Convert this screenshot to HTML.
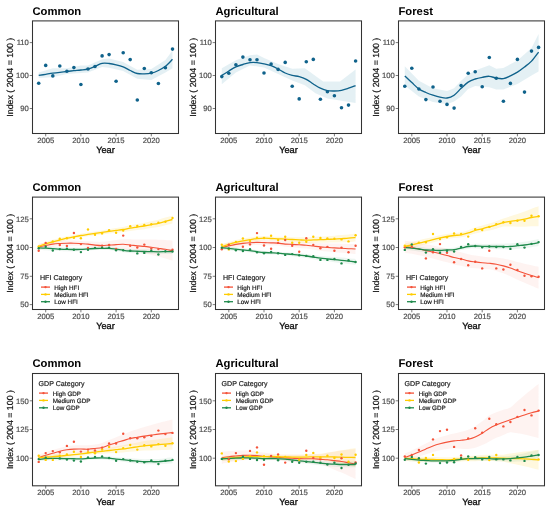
<!DOCTYPE html>
<html><head><meta charset="utf-8"><style>
html,body{margin:0;padding:0;background:#fff;}
svg{display:block;filter:blur(0.25px);}
text{paint-order:stroke;stroke-linejoin:round;text-rendering:geometricPrecision;}
.r{stroke-width:0.2px;}
</style></head><body>
<svg width="550" height="511" viewBox="0 0 550 511" font-family="Liberation Sans, sans-serif" style="font-family:'Liberation Sans',sans-serif">
<rect width="550" height="511" fill="#fff"/>
<text x="32.5" y="14.55" font-size="11.25" font-weight="bold" fill="#000">Common</text>
<text transform="translate(13.3,77.2) rotate(-90)" text-anchor="middle" font-size="8.8" fill="#111" stroke="#111" class="r">Index ( 2004 = 100 )</text>
<line x1="29.7" y1="42.6" x2="32.5" y2="42.6" stroke="#444" stroke-width="0.7"/>
<text x="28.9" y="45.4" text-anchor="end" font-size="7.7" fill="#4d4d4d" stroke="#4d4d4d" class="r">110</text>
<line x1="29.7" y1="75.5" x2="32.5" y2="75.5" stroke="#444" stroke-width="0.7"/>
<text x="28.9" y="78.3" text-anchor="end" font-size="7.7" fill="#4d4d4d" stroke="#4d4d4d" class="r">100</text>
<line x1="29.7" y1="108.5" x2="32.5" y2="108.5" stroke="#444" stroke-width="0.7"/>
<text x="28.9" y="111.3" text-anchor="end" font-size="7.7" fill="#4d4d4d" stroke="#4d4d4d" class="r">90</text>
<line x1="45.7" y1="133.5" x2="45.7" y2="136.3" stroke="#444" stroke-width="0.7"/>
<text x="45.7" y="142.7" text-anchor="middle" font-size="7.7" fill="#4d4d4d" stroke="#4d4d4d" class="r">2005</text>
<line x1="80.9" y1="133.5" x2="80.9" y2="136.3" stroke="#444" stroke-width="0.7"/>
<text x="80.9" y="142.7" text-anchor="middle" font-size="7.7" fill="#4d4d4d" stroke="#4d4d4d" class="r">2010</text>
<line x1="116.1" y1="133.5" x2="116.1" y2="136.3" stroke="#444" stroke-width="0.7"/>
<text x="116.1" y="142.7" text-anchor="middle" font-size="7.7" fill="#4d4d4d" stroke="#4d4d4d" class="r">2015</text>
<line x1="151.3" y1="133.5" x2="151.3" y2="136.3" stroke="#444" stroke-width="0.7"/>
<text x="151.3" y="142.7" text-anchor="middle" font-size="7.7" fill="#4d4d4d" stroke="#4d4d4d" class="r">2020</text>
<text x="105.5" y="152.7" text-anchor="middle" font-size="9.2" fill="#111" stroke="#111" stroke-width="0.35">Year</text>
<text x="215.5" y="14.55" font-size="11.25" font-weight="bold" fill="#000">Agricultural</text>
<text transform="translate(196.3,77.2) rotate(-90)" text-anchor="middle" font-size="8.8" fill="#111" stroke="#111" class="r">Index ( 2004 = 100 )</text>
<line x1="212.7" y1="42.6" x2="215.5" y2="42.6" stroke="#444" stroke-width="0.7"/>
<text x="211.9" y="45.4" text-anchor="end" font-size="7.7" fill="#4d4d4d" stroke="#4d4d4d" class="r">110</text>
<line x1="212.7" y1="75.5" x2="215.5" y2="75.5" stroke="#444" stroke-width="0.7"/>
<text x="211.9" y="78.3" text-anchor="end" font-size="7.7" fill="#4d4d4d" stroke="#4d4d4d" class="r">100</text>
<line x1="212.7" y1="108.5" x2="215.5" y2="108.5" stroke="#444" stroke-width="0.7"/>
<text x="211.9" y="111.3" text-anchor="end" font-size="7.7" fill="#4d4d4d" stroke="#4d4d4d" class="r">90</text>
<line x1="228.8" y1="133.5" x2="228.8" y2="136.3" stroke="#444" stroke-width="0.7"/>
<text x="228.8" y="142.7" text-anchor="middle" font-size="7.7" fill="#4d4d4d" stroke="#4d4d4d" class="r">2005</text>
<line x1="264.0" y1="133.5" x2="264.0" y2="136.3" stroke="#444" stroke-width="0.7"/>
<text x="264.0" y="142.7" text-anchor="middle" font-size="7.7" fill="#4d4d4d" stroke="#4d4d4d" class="r">2010</text>
<line x1="299.2" y1="133.5" x2="299.2" y2="136.3" stroke="#444" stroke-width="0.7"/>
<text x="299.2" y="142.7" text-anchor="middle" font-size="7.7" fill="#4d4d4d" stroke="#4d4d4d" class="r">2015</text>
<line x1="334.4" y1="133.5" x2="334.4" y2="136.3" stroke="#444" stroke-width="0.7"/>
<text x="334.4" y="142.7" text-anchor="middle" font-size="7.7" fill="#4d4d4d" stroke="#4d4d4d" class="r">2020</text>
<text x="288.5" y="152.7" text-anchor="middle" font-size="9.2" fill="#111" stroke="#111" stroke-width="0.35">Year</text>
<text x="398.5" y="14.55" font-size="11.25" font-weight="bold" fill="#000">Forest</text>
<text transform="translate(379.3,77.2) rotate(-90)" text-anchor="middle" font-size="8.8" fill="#111" stroke="#111" class="r">Index ( 2004 = 100 )</text>
<line x1="395.7" y1="42.6" x2="398.5" y2="42.6" stroke="#444" stroke-width="0.7"/>
<text x="394.9" y="45.4" text-anchor="end" font-size="7.7" fill="#4d4d4d" stroke="#4d4d4d" class="r">110</text>
<line x1="395.7" y1="75.5" x2="398.5" y2="75.5" stroke="#444" stroke-width="0.7"/>
<text x="394.9" y="78.3" text-anchor="end" font-size="7.7" fill="#4d4d4d" stroke="#4d4d4d" class="r">100</text>
<line x1="395.7" y1="108.5" x2="398.5" y2="108.5" stroke="#444" stroke-width="0.7"/>
<text x="394.9" y="111.3" text-anchor="end" font-size="7.7" fill="#4d4d4d" stroke="#4d4d4d" class="r">90</text>
<line x1="411.8" y1="133.5" x2="411.8" y2="136.3" stroke="#444" stroke-width="0.7"/>
<text x="411.8" y="142.7" text-anchor="middle" font-size="7.7" fill="#4d4d4d" stroke="#4d4d4d" class="r">2005</text>
<line x1="447.0" y1="133.5" x2="447.0" y2="136.3" stroke="#444" stroke-width="0.7"/>
<text x="447.0" y="142.7" text-anchor="middle" font-size="7.7" fill="#4d4d4d" stroke="#4d4d4d" class="r">2010</text>
<line x1="482.2" y1="133.5" x2="482.2" y2="136.3" stroke="#444" stroke-width="0.7"/>
<text x="482.2" y="142.7" text-anchor="middle" font-size="7.7" fill="#4d4d4d" stroke="#4d4d4d" class="r">2015</text>
<line x1="517.4" y1="133.5" x2="517.4" y2="136.3" stroke="#444" stroke-width="0.7"/>
<text x="517.4" y="142.7" text-anchor="middle" font-size="7.7" fill="#4d4d4d" stroke="#4d4d4d" class="r">2020</text>
<text x="471.5" y="152.7" text-anchor="middle" font-size="9.2" fill="#111" stroke="#111" stroke-width="0.35">Year</text>
<text x="32.5" y="190.75" font-size="11.25" font-weight="bold" fill="#000">Common</text>
<text transform="translate(13.3,253.3) rotate(-90)" text-anchor="middle" font-size="8.8" fill="#111" stroke="#111" class="r">Index ( 2004 = 100 )</text>
<line x1="29.7" y1="218.8" x2="32.5" y2="218.8" stroke="#444" stroke-width="0.7"/>
<text x="28.9" y="221.6" text-anchor="end" font-size="7.7" fill="#4d4d4d" stroke="#4d4d4d" class="r">125</text>
<line x1="29.7" y1="247.5" x2="32.5" y2="247.5" stroke="#444" stroke-width="0.7"/>
<text x="28.9" y="250.3" text-anchor="end" font-size="7.7" fill="#4d4d4d" stroke="#4d4d4d" class="r">100</text>
<line x1="29.7" y1="276.3" x2="32.5" y2="276.3" stroke="#444" stroke-width="0.7"/>
<text x="28.9" y="279.1" text-anchor="end" font-size="7.7" fill="#4d4d4d" stroke="#4d4d4d" class="r">75</text>
<line x1="29.7" y1="304.6" x2="32.5" y2="304.6" stroke="#444" stroke-width="0.7"/>
<text x="28.9" y="307.4" text-anchor="end" font-size="7.7" fill="#4d4d4d" stroke="#4d4d4d" class="r">50</text>
<line x1="45.7" y1="309.5" x2="45.7" y2="312.3" stroke="#444" stroke-width="0.7"/>
<text x="45.7" y="318.7" text-anchor="middle" font-size="7.7" fill="#4d4d4d" stroke="#4d4d4d" class="r">2005</text>
<line x1="80.9" y1="309.5" x2="80.9" y2="312.3" stroke="#444" stroke-width="0.7"/>
<text x="80.9" y="318.7" text-anchor="middle" font-size="7.7" fill="#4d4d4d" stroke="#4d4d4d" class="r">2010</text>
<line x1="116.1" y1="309.5" x2="116.1" y2="312.3" stroke="#444" stroke-width="0.7"/>
<text x="116.1" y="318.7" text-anchor="middle" font-size="7.7" fill="#4d4d4d" stroke="#4d4d4d" class="r">2015</text>
<line x1="151.3" y1="309.5" x2="151.3" y2="312.3" stroke="#444" stroke-width="0.7"/>
<text x="151.3" y="318.7" text-anchor="middle" font-size="7.7" fill="#4d4d4d" stroke="#4d4d4d" class="r">2020</text>
<text x="105.5" y="328.7" text-anchor="middle" font-size="9.2" fill="#111" stroke="#111" stroke-width="0.35">Year</text>
<text x="215.5" y="190.75" font-size="11.25" font-weight="bold" fill="#000">Agricultural</text>
<text transform="translate(196.3,253.3) rotate(-90)" text-anchor="middle" font-size="8.8" fill="#111" stroke="#111" class="r">Index ( 2004 = 100 )</text>
<line x1="212.7" y1="218.8" x2="215.5" y2="218.8" stroke="#444" stroke-width="0.7"/>
<text x="211.9" y="221.6" text-anchor="end" font-size="7.7" fill="#4d4d4d" stroke="#4d4d4d" class="r">125</text>
<line x1="212.7" y1="247.5" x2="215.5" y2="247.5" stroke="#444" stroke-width="0.7"/>
<text x="211.9" y="250.3" text-anchor="end" font-size="7.7" fill="#4d4d4d" stroke="#4d4d4d" class="r">100</text>
<line x1="212.7" y1="276.3" x2="215.5" y2="276.3" stroke="#444" stroke-width="0.7"/>
<text x="211.9" y="279.1" text-anchor="end" font-size="7.7" fill="#4d4d4d" stroke="#4d4d4d" class="r">75</text>
<line x1="212.7" y1="304.6" x2="215.5" y2="304.6" stroke="#444" stroke-width="0.7"/>
<text x="211.9" y="307.4" text-anchor="end" font-size="7.7" fill="#4d4d4d" stroke="#4d4d4d" class="r">50</text>
<line x1="228.8" y1="309.5" x2="228.8" y2="312.3" stroke="#444" stroke-width="0.7"/>
<text x="228.8" y="318.7" text-anchor="middle" font-size="7.7" fill="#4d4d4d" stroke="#4d4d4d" class="r">2005</text>
<line x1="264.0" y1="309.5" x2="264.0" y2="312.3" stroke="#444" stroke-width="0.7"/>
<text x="264.0" y="318.7" text-anchor="middle" font-size="7.7" fill="#4d4d4d" stroke="#4d4d4d" class="r">2010</text>
<line x1="299.2" y1="309.5" x2="299.2" y2="312.3" stroke="#444" stroke-width="0.7"/>
<text x="299.2" y="318.7" text-anchor="middle" font-size="7.7" fill="#4d4d4d" stroke="#4d4d4d" class="r">2015</text>
<line x1="334.4" y1="309.5" x2="334.4" y2="312.3" stroke="#444" stroke-width="0.7"/>
<text x="334.4" y="318.7" text-anchor="middle" font-size="7.7" fill="#4d4d4d" stroke="#4d4d4d" class="r">2020</text>
<text x="288.5" y="328.7" text-anchor="middle" font-size="9.2" fill="#111" stroke="#111" stroke-width="0.35">Year</text>
<text x="398.5" y="190.75" font-size="11.25" font-weight="bold" fill="#000">Forest</text>
<text transform="translate(379.3,253.3) rotate(-90)" text-anchor="middle" font-size="8.8" fill="#111" stroke="#111" class="r">Index ( 2004 = 100 )</text>
<line x1="395.7" y1="218.8" x2="398.5" y2="218.8" stroke="#444" stroke-width="0.7"/>
<text x="394.9" y="221.6" text-anchor="end" font-size="7.7" fill="#4d4d4d" stroke="#4d4d4d" class="r">125</text>
<line x1="395.7" y1="247.5" x2="398.5" y2="247.5" stroke="#444" stroke-width="0.7"/>
<text x="394.9" y="250.3" text-anchor="end" font-size="7.7" fill="#4d4d4d" stroke="#4d4d4d" class="r">100</text>
<line x1="395.7" y1="276.3" x2="398.5" y2="276.3" stroke="#444" stroke-width="0.7"/>
<text x="394.9" y="279.1" text-anchor="end" font-size="7.7" fill="#4d4d4d" stroke="#4d4d4d" class="r">75</text>
<line x1="395.7" y1="304.6" x2="398.5" y2="304.6" stroke="#444" stroke-width="0.7"/>
<text x="394.9" y="307.4" text-anchor="end" font-size="7.7" fill="#4d4d4d" stroke="#4d4d4d" class="r">50</text>
<line x1="411.8" y1="309.5" x2="411.8" y2="312.3" stroke="#444" stroke-width="0.7"/>
<text x="411.8" y="318.7" text-anchor="middle" font-size="7.7" fill="#4d4d4d" stroke="#4d4d4d" class="r">2005</text>
<line x1="447.0" y1="309.5" x2="447.0" y2="312.3" stroke="#444" stroke-width="0.7"/>
<text x="447.0" y="318.7" text-anchor="middle" font-size="7.7" fill="#4d4d4d" stroke="#4d4d4d" class="r">2010</text>
<line x1="482.2" y1="309.5" x2="482.2" y2="312.3" stroke="#444" stroke-width="0.7"/>
<text x="482.2" y="318.7" text-anchor="middle" font-size="7.7" fill="#4d4d4d" stroke="#4d4d4d" class="r">2015</text>
<line x1="517.4" y1="309.5" x2="517.4" y2="312.3" stroke="#444" stroke-width="0.7"/>
<text x="517.4" y="318.7" text-anchor="middle" font-size="7.7" fill="#4d4d4d" stroke="#4d4d4d" class="r">2020</text>
<text x="471.5" y="328.7" text-anchor="middle" font-size="9.2" fill="#111" stroke="#111" stroke-width="0.35">Year</text>
<text x="32.5" y="367.15" font-size="11.25" font-weight="bold" fill="#000">Common</text>
<text transform="translate(13.3,429.6) rotate(-90)" text-anchor="middle" font-size="8.8" fill="#111" stroke="#111" class="r">Index ( 2004 = 100 )</text>
<line x1="29.7" y1="400.8" x2="32.5" y2="400.8" stroke="#444" stroke-width="0.7"/>
<text x="28.9" y="403.6" text-anchor="end" font-size="7.7" fill="#4d4d4d" stroke="#4d4d4d" class="r">150</text>
<line x1="29.7" y1="429.5" x2="32.5" y2="429.5" stroke="#444" stroke-width="0.7"/>
<text x="28.9" y="432.3" text-anchor="end" font-size="7.7" fill="#4d4d4d" stroke="#4d4d4d" class="r">125</text>
<line x1="29.7" y1="458.2" x2="32.5" y2="458.2" stroke="#444" stroke-width="0.7"/>
<text x="28.9" y="461.0" text-anchor="end" font-size="7.7" fill="#4d4d4d" stroke="#4d4d4d" class="r">100</text>
<line x1="45.7" y1="485.8" x2="45.7" y2="488.6" stroke="#444" stroke-width="0.7"/>
<text x="45.7" y="495.0" text-anchor="middle" font-size="7.7" fill="#4d4d4d" stroke="#4d4d4d" class="r">2005</text>
<line x1="80.9" y1="485.8" x2="80.9" y2="488.6" stroke="#444" stroke-width="0.7"/>
<text x="80.9" y="495.0" text-anchor="middle" font-size="7.7" fill="#4d4d4d" stroke="#4d4d4d" class="r">2010</text>
<line x1="116.1" y1="485.8" x2="116.1" y2="488.6" stroke="#444" stroke-width="0.7"/>
<text x="116.1" y="495.0" text-anchor="middle" font-size="7.7" fill="#4d4d4d" stroke="#4d4d4d" class="r">2015</text>
<line x1="151.3" y1="485.8" x2="151.3" y2="488.6" stroke="#444" stroke-width="0.7"/>
<text x="151.3" y="495.0" text-anchor="middle" font-size="7.7" fill="#4d4d4d" stroke="#4d4d4d" class="r">2020</text>
<text x="105.5" y="505.0" text-anchor="middle" font-size="9.2" fill="#111" stroke="#111" stroke-width="0.35">Year</text>
<text x="215.5" y="367.15" font-size="11.25" font-weight="bold" fill="#000">Agricultural</text>
<text transform="translate(196.3,429.6) rotate(-90)" text-anchor="middle" font-size="8.8" fill="#111" stroke="#111" class="r">Index ( 2004 = 100 )</text>
<line x1="212.7" y1="400.8" x2="215.5" y2="400.8" stroke="#444" stroke-width="0.7"/>
<text x="211.9" y="403.6" text-anchor="end" font-size="7.7" fill="#4d4d4d" stroke="#4d4d4d" class="r">150</text>
<line x1="212.7" y1="429.5" x2="215.5" y2="429.5" stroke="#444" stroke-width="0.7"/>
<text x="211.9" y="432.3" text-anchor="end" font-size="7.7" fill="#4d4d4d" stroke="#4d4d4d" class="r">125</text>
<line x1="212.7" y1="458.2" x2="215.5" y2="458.2" stroke="#444" stroke-width="0.7"/>
<text x="211.9" y="461.0" text-anchor="end" font-size="7.7" fill="#4d4d4d" stroke="#4d4d4d" class="r">100</text>
<line x1="228.8" y1="485.8" x2="228.8" y2="488.6" stroke="#444" stroke-width="0.7"/>
<text x="228.8" y="495.0" text-anchor="middle" font-size="7.7" fill="#4d4d4d" stroke="#4d4d4d" class="r">2005</text>
<line x1="264.0" y1="485.8" x2="264.0" y2="488.6" stroke="#444" stroke-width="0.7"/>
<text x="264.0" y="495.0" text-anchor="middle" font-size="7.7" fill="#4d4d4d" stroke="#4d4d4d" class="r">2010</text>
<line x1="299.2" y1="485.8" x2="299.2" y2="488.6" stroke="#444" stroke-width="0.7"/>
<text x="299.2" y="495.0" text-anchor="middle" font-size="7.7" fill="#4d4d4d" stroke="#4d4d4d" class="r">2015</text>
<line x1="334.4" y1="485.8" x2="334.4" y2="488.6" stroke="#444" stroke-width="0.7"/>
<text x="334.4" y="495.0" text-anchor="middle" font-size="7.7" fill="#4d4d4d" stroke="#4d4d4d" class="r">2020</text>
<text x="288.5" y="505.0" text-anchor="middle" font-size="9.2" fill="#111" stroke="#111" stroke-width="0.35">Year</text>
<text x="398.5" y="367.15" font-size="11.25" font-weight="bold" fill="#000">Forest</text>
<text transform="translate(379.3,429.6) rotate(-90)" text-anchor="middle" font-size="8.8" fill="#111" stroke="#111" class="r">Index ( 2004 = 100 )</text>
<line x1="395.7" y1="400.8" x2="398.5" y2="400.8" stroke="#444" stroke-width="0.7"/>
<text x="394.9" y="403.6" text-anchor="end" font-size="7.7" fill="#4d4d4d" stroke="#4d4d4d" class="r">150</text>
<line x1="395.7" y1="429.5" x2="398.5" y2="429.5" stroke="#444" stroke-width="0.7"/>
<text x="394.9" y="432.3" text-anchor="end" font-size="7.7" fill="#4d4d4d" stroke="#4d4d4d" class="r">125</text>
<line x1="395.7" y1="458.2" x2="398.5" y2="458.2" stroke="#444" stroke-width="0.7"/>
<text x="394.9" y="461.0" text-anchor="end" font-size="7.7" fill="#4d4d4d" stroke="#4d4d4d" class="r">100</text>
<line x1="411.8" y1="485.8" x2="411.8" y2="488.6" stroke="#444" stroke-width="0.7"/>
<text x="411.8" y="495.0" text-anchor="middle" font-size="7.7" fill="#4d4d4d" stroke="#4d4d4d" class="r">2005</text>
<line x1="447.0" y1="485.8" x2="447.0" y2="488.6" stroke="#444" stroke-width="0.7"/>
<text x="447.0" y="495.0" text-anchor="middle" font-size="7.7" fill="#4d4d4d" stroke="#4d4d4d" class="r">2010</text>
<line x1="482.2" y1="485.8" x2="482.2" y2="488.6" stroke="#444" stroke-width="0.7"/>
<text x="482.2" y="495.0" text-anchor="middle" font-size="7.7" fill="#4d4d4d" stroke="#4d4d4d" class="r">2015</text>
<line x1="517.4" y1="485.8" x2="517.4" y2="488.6" stroke="#444" stroke-width="0.7"/>
<text x="517.4" y="495.0" text-anchor="middle" font-size="7.7" fill="#4d4d4d" stroke="#4d4d4d" class="r">2020</text>
<text x="471.5" y="505.0" text-anchor="middle" font-size="9.2" fill="#111" stroke="#111" stroke-width="0.35">Year</text>
<path d="M38.70,72.50 L52.78,68.30 L66.86,68.30 L80.94,65.60 L87.98,65.60 L102.06,59.30 L109.10,58.50 L123.18,62.10 L137.26,69.70 L151.34,69.00 L165.42,60.00 L172.46,50.40 L172.46,68.30 L165.42,72.50 L151.34,80.10 L137.26,78.70 L123.18,71.10 L109.10,67.80 L102.06,67.00 L87.98,72.50 L66.86,73.90 L52.78,77.30 L38.70,78.00 Z" fill="#5a9fb8" fill-opacity="0.16" stroke="none"/>
<path d="M38.70,75.40 C39.87,75.22 43.39,74.67 45.74,74.30 C48.09,73.93 50.43,73.53 52.78,73.20 C55.13,72.87 57.47,72.58 59.82,72.30 C62.17,72.02 64.51,71.77 66.86,71.50 C69.21,71.23 71.55,70.95 73.90,70.70 C76.25,70.45 78.59,70.28 80.94,70.00 C83.29,69.72 85.63,69.60 87.98,69.00 C90.33,68.40 92.67,67.33 95.02,66.40 C97.37,65.47 99.71,63.88 102.06,63.40 C104.41,62.92 106.75,63.27 109.10,63.50 C111.45,63.73 113.79,64.23 116.14,64.80 C118.49,65.37 120.83,65.95 123.18,66.90 C125.53,67.85 127.87,69.40 130.22,70.50 C132.57,71.60 134.91,72.93 137.26,73.50 C139.61,74.07 141.95,73.95 144.30,73.90 C146.65,73.85 148.99,73.77 151.34,73.20 C153.69,72.63 156.03,71.65 158.38,70.50 C160.73,69.35 163.07,68.17 165.42,66.30 C167.77,64.43 171.29,60.47 172.46,59.30" fill="none" stroke="#0f628b" stroke-width="1.35" stroke-linecap="butt"/>
<circle cx="38.7" cy="83.2" r="1.8" fill="#0f628b"/>
<circle cx="45.7" cy="65.4" r="1.8" fill="#0f628b"/>
<circle cx="52.8" cy="75.9" r="1.8" fill="#0f628b"/>
<circle cx="59.8" cy="66.0" r="1.8" fill="#0f628b"/>
<circle cx="66.9" cy="71.2" r="1.8" fill="#0f628b"/>
<circle cx="73.9" cy="67.6" r="1.8" fill="#0f628b"/>
<circle cx="80.9" cy="84.5" r="1.8" fill="#0f628b"/>
<circle cx="88.0" cy="69.0" r="1.8" fill="#0f628b"/>
<circle cx="95.0" cy="66.5" r="1.8" fill="#0f628b"/>
<circle cx="102.1" cy="55.9" r="1.8" fill="#0f628b"/>
<circle cx="109.1" cy="54.6" r="1.8" fill="#0f628b"/>
<circle cx="116.1" cy="81.3" r="1.8" fill="#0f628b"/>
<circle cx="123.2" cy="52.8" r="1.8" fill="#0f628b"/>
<circle cx="130.2" cy="59.6" r="1.8" fill="#0f628b"/>
<circle cx="137.3" cy="100.0" r="1.8" fill="#0f628b"/>
<circle cx="144.3" cy="68.5" r="1.8" fill="#0f628b"/>
<circle cx="151.3" cy="72.7" r="1.8" fill="#0f628b"/>
<circle cx="158.4" cy="83.5" r="1.8" fill="#0f628b"/>
<circle cx="165.4" cy="67.7" r="1.8" fill="#0f628b"/>
<circle cx="172.5" cy="49.1" r="1.8" fill="#0f628b"/>
<path d="M221.80,68.30 L235.88,60.30 L249.96,55.20 L257.00,54.50 L264.04,58.10 L278.12,63.90 L292.20,68.70 L304.87,68.30 L323.18,81.40 L340.07,81.40 L355.56,69.60 L355.56,103.00 L327.40,98.40 L315.43,93.20 L304.87,85.30 L292.20,80.50 L278.12,74.10 L264.04,67.50 L249.96,65.40 L235.88,72.60 L221.80,84.30 Z" fill="#5a9fb8" fill-opacity="0.16" stroke="none"/>
<path d="M221.80,75.40 C222.97,74.67 226.49,72.43 228.84,71.00 C231.19,69.57 233.53,67.88 235.88,66.80 C238.23,65.72 240.57,65.20 242.92,64.50 C245.27,63.80 247.61,62.92 249.96,62.60 C252.31,62.28 254.65,62.40 257.00,62.60 C259.35,62.80 261.69,63.28 264.04,63.80 C266.39,64.32 268.73,64.83 271.08,65.70 C273.43,66.57 275.77,67.78 278.12,69.00 C280.47,70.22 282.81,71.93 285.16,73.00 C287.51,74.07 289.85,74.80 292.20,75.40 C294.55,76.00 296.89,75.95 299.24,76.60 C301.59,77.25 303.93,78.07 306.28,79.30 C308.63,80.53 310.97,82.52 313.32,84.00 C315.67,85.48 318.01,87.10 320.36,88.20 C322.71,89.30 325.05,90.13 327.40,90.60 C329.75,91.07 332.09,91.05 334.44,91.00 C336.79,90.95 339.13,90.77 341.48,90.30 C343.83,89.83 346.17,88.98 348.52,88.20 C350.87,87.42 354.39,86.03 355.56,85.60" fill="none" stroke="#0f628b" stroke-width="1.35" stroke-linecap="butt"/>
<circle cx="221.8" cy="76.6" r="1.8" fill="#0f628b"/>
<circle cx="228.8" cy="73.3" r="1.8" fill="#0f628b"/>
<circle cx="235.9" cy="64.7" r="1.8" fill="#0f628b"/>
<circle cx="242.9" cy="57.1" r="1.8" fill="#0f628b"/>
<circle cx="250.0" cy="59.7" r="1.8" fill="#0f628b"/>
<circle cx="257.0" cy="59.7" r="1.8" fill="#0f628b"/>
<circle cx="264.0" cy="73.0" r="1.8" fill="#0f628b"/>
<circle cx="271.1" cy="64.1" r="1.8" fill="#0f628b"/>
<circle cx="278.1" cy="69.4" r="1.8" fill="#0f628b"/>
<circle cx="285.2" cy="62.4" r="1.8" fill="#0f628b"/>
<circle cx="292.2" cy="86.3" r="1.8" fill="#0f628b"/>
<circle cx="299.2" cy="98.9" r="1.8" fill="#0f628b"/>
<circle cx="306.3" cy="61.8" r="1.8" fill="#0f628b"/>
<circle cx="313.3" cy="59.4" r="1.8" fill="#0f628b"/>
<circle cx="320.4" cy="99.3" r="1.8" fill="#0f628b"/>
<circle cx="327.4" cy="91.8" r="1.8" fill="#0f628b"/>
<circle cx="334.4" cy="95.7" r="1.8" fill="#0f628b"/>
<circle cx="341.5" cy="107.8" r="1.8" fill="#0f628b"/>
<circle cx="348.5" cy="105.1" r="1.8" fill="#0f628b"/>
<circle cx="355.6" cy="61.0" r="1.8" fill="#0f628b"/>
<path d="M404.80,66.20 L418.88,80.70 L432.96,88.30 L447.04,91.10 L454.08,88.30 L461.12,80.70 L468.16,74.50 L475.20,70.50 L489.28,65.20 L496.32,68.70 L503.36,68.00 L517.44,60.40 L531.52,48.00 L538.56,34.10 L538.56,71.50 L531.52,75.60 L517.44,83.90 L503.36,89.40 L496.32,89.40 L489.28,87.30 L475.20,86.00 L468.16,89.00 L461.12,96.60 L454.08,101.50 L447.04,104.20 L432.96,102.10 L418.88,96.60 L404.80,85.50 Z" fill="#5a9fb8" fill-opacity="0.16" stroke="none"/>
<path d="M404.80,75.90 C405.97,77.02 409.49,80.42 411.84,82.60 C414.19,84.78 416.53,87.35 418.88,89.00 C421.23,90.65 423.57,91.47 425.92,92.50 C428.27,93.53 430.61,94.42 432.96,95.20 C435.31,95.98 437.65,96.73 440.00,97.20 C442.35,97.67 444.69,98.33 447.04,98.00 C449.39,97.67 451.73,96.82 454.08,95.20 C456.43,93.58 458.77,90.48 461.12,88.30 C463.47,86.12 465.81,83.65 468.16,82.10 C470.51,80.55 472.85,79.80 475.20,79.00 C477.55,78.20 479.89,77.75 482.24,77.30 C484.59,76.85 486.93,76.17 489.28,76.30 C491.63,76.43 493.97,77.72 496.32,78.10 C498.67,78.48 501.01,78.98 503.36,78.60 C505.71,78.22 508.05,76.88 510.40,75.80 C512.75,74.72 515.09,73.57 517.44,72.10 C519.79,70.63 522.13,68.83 524.48,67.00 C526.83,65.17 529.17,63.58 531.52,61.10 C533.87,58.62 537.39,53.60 538.56,52.10" fill="none" stroke="#0f628b" stroke-width="1.35" stroke-linecap="butt"/>
<circle cx="404.8" cy="86.3" r="1.8" fill="#0f628b"/>
<circle cx="411.8" cy="68.3" r="1.8" fill="#0f628b"/>
<circle cx="418.9" cy="89.0" r="1.8" fill="#0f628b"/>
<circle cx="425.9" cy="99.6" r="1.8" fill="#0f628b"/>
<circle cx="433.0" cy="87.0" r="1.8" fill="#0f628b"/>
<circle cx="440.0" cy="101.3" r="1.8" fill="#0f628b"/>
<circle cx="447.0" cy="104.4" r="1.8" fill="#0f628b"/>
<circle cx="454.1" cy="108.1" r="1.8" fill="#0f628b"/>
<circle cx="461.1" cy="85.6" r="1.8" fill="#0f628b"/>
<circle cx="468.2" cy="73.2" r="1.8" fill="#0f628b"/>
<circle cx="475.2" cy="71.7" r="1.8" fill="#0f628b"/>
<circle cx="482.2" cy="86.7" r="1.8" fill="#0f628b"/>
<circle cx="489.3" cy="57.5" r="1.8" fill="#0f628b"/>
<circle cx="496.3" cy="78.2" r="1.8" fill="#0f628b"/>
<circle cx="503.4" cy="101.2" r="1.8" fill="#0f628b"/>
<circle cx="510.4" cy="83.4" r="1.8" fill="#0f628b"/>
<circle cx="517.4" cy="59.4" r="1.8" fill="#0f628b"/>
<circle cx="524.5" cy="92.1" r="1.8" fill="#0f628b"/>
<circle cx="531.5" cy="51.1" r="1.8" fill="#0f628b"/>
<circle cx="538.6" cy="47.4" r="1.8" fill="#0f628b"/>
<path d="M38.70,243.80 C39.87,243.60 43.39,243.01 45.74,242.58 C48.09,242.16 50.43,241.57 52.78,241.27 C55.13,240.96 57.47,240.87 59.82,240.75 C62.17,240.63 64.51,240.56 66.86,240.53 C69.21,240.51 71.55,240.52 73.90,240.62 C76.25,240.71 78.59,241.01 80.94,241.10 C83.29,241.19 85.63,241.07 87.98,241.18 C90.33,241.29 92.67,241.66 95.02,241.77 C97.37,241.88 99.71,241.99 102.06,241.85 C104.41,241.71 106.75,241.24 109.10,240.93 C111.45,240.63 113.79,240.29 116.14,240.02 C118.49,239.74 120.83,239.41 123.18,239.30 C125.53,239.19 127.87,239.29 130.22,239.33 C132.57,239.38 134.91,239.56 137.26,239.57 C139.61,239.58 141.95,239.40 144.30,239.40 C146.65,239.40 148.99,239.48 151.34,239.55 C153.69,239.62 156.03,239.72 158.38,239.80 C160.73,239.88 163.07,239.90 165.42,240.05 C167.77,240.20 171.29,240.59 172.46,240.70 L172.46,260.70 C171.29,260.34 167.77,259.20 165.42,258.55 C163.07,257.90 160.73,257.38 158.38,256.80 C156.03,256.22 153.69,255.62 151.34,255.05 C148.99,254.48 146.65,253.87 144.30,253.40 C141.95,252.93 139.61,252.69 137.26,252.23 C134.91,251.78 132.57,251.16 130.22,250.67 C127.87,250.18 125.53,249.55 123.18,249.30 C120.83,249.05 118.49,249.19 116.14,249.18 C113.79,249.18 111.45,249.24 109.10,249.27 C106.75,249.29 104.41,249.49 102.06,249.35 C99.71,249.21 97.37,248.82 95.02,248.43 C92.67,248.04 90.33,247.41 87.98,247.02 C85.63,246.63 83.29,246.31 80.94,246.10 C78.59,245.89 76.25,245.82 73.90,245.78 C71.55,245.74 69.21,245.79 66.86,245.87 C64.51,245.94 62.17,246.07 59.82,246.25 C57.47,246.43 55.13,246.57 52.78,246.93 C50.43,247.29 48.09,247.94 45.74,248.42 C43.39,248.89 39.87,249.57 38.70,249.80 Z" fill="#f4533a" fill-opacity="0.07" stroke="none"/>
<path d="M38.70,244.40 C39.87,243.99 43.39,242.68 45.74,241.93 C48.09,241.17 50.43,240.49 52.78,239.85 C55.13,239.21 57.47,238.67 59.82,238.07 C62.17,237.48 64.51,236.82 66.86,236.30 C69.21,235.77 71.55,235.37 73.90,234.93 C76.25,234.48 78.59,234.03 80.94,233.65 C83.29,233.27 85.63,232.97 87.98,232.62 C90.33,232.28 92.67,231.97 95.02,231.60 C97.37,231.23 99.71,230.80 102.06,230.40 C104.41,230.00 106.75,229.59 109.10,229.20 C111.45,228.81 113.79,228.43 116.14,228.05 C118.49,227.67 120.83,227.36 123.18,226.90 C125.53,226.44 127.87,225.77 130.22,225.30 C132.57,224.82 134.91,224.47 137.26,224.05 C139.61,223.63 141.95,223.27 144.30,222.80 C146.65,222.33 148.99,221.77 151.34,221.25 C153.69,220.73 156.03,220.31 158.38,219.70 C160.73,219.09 163.07,218.30 165.42,217.60 C167.77,216.90 171.29,215.85 172.46,215.50 L172.46,223.50 C171.29,223.78 167.77,224.63 165.42,225.20 C163.07,225.77 160.73,226.43 158.38,226.90 C156.03,227.38 153.69,227.67 151.34,228.05 C148.99,228.43 146.65,228.87 144.30,229.20 C141.95,229.53 139.61,229.77 137.26,230.05 C134.91,230.33 132.57,230.56 130.22,230.90 C127.87,231.24 125.53,231.78 123.18,232.10 C120.83,232.42 118.49,232.60 116.14,232.85 C113.79,233.10 111.45,233.34 109.10,233.60 C106.75,233.86 104.41,234.13 102.06,234.40 C99.71,234.67 97.37,234.89 95.02,235.20 C92.67,235.51 90.33,235.92 87.98,236.27 C85.63,236.63 83.29,236.95 80.94,237.35 C78.59,237.75 76.25,238.22 73.90,238.68 C71.55,239.13 69.21,239.56 66.86,240.10 C64.51,240.64 62.17,241.32 59.82,241.93 C57.47,242.53 55.13,243.09 52.78,243.75 C50.43,244.41 48.09,245.10 45.74,245.88 C43.39,246.65 39.87,247.98 38.70,248.40 Z" fill="#ffcc00" fill-opacity="0.13" stroke="none"/>
<path d="M38.70,245.90 C39.87,245.96 43.39,246.12 45.74,246.26 C48.09,246.40 50.43,246.55 52.78,246.72 C55.13,246.90 57.47,247.13 59.82,247.29 C62.17,247.44 64.51,247.56 66.86,247.65 C69.21,247.74 71.55,247.81 73.90,247.81 C76.25,247.82 78.59,247.75 80.94,247.68 C83.29,247.60 85.63,247.45 87.98,247.34 C90.33,247.22 92.67,247.09 95.02,247.00 C97.37,246.91 99.71,246.87 102.06,246.81 C104.41,246.75 106.75,246.52 109.10,246.62 C111.45,246.72 113.79,247.12 116.14,247.43 C118.49,247.73 120.83,248.17 123.18,248.44 C125.53,248.71 127.87,248.92 130.22,249.05 C132.57,249.17 134.91,249.15 137.26,249.20 C139.61,249.26 141.95,249.33 144.30,249.36 C146.65,249.40 148.99,249.40 151.34,249.42 C153.69,249.44 156.03,249.51 158.38,249.48 C160.73,249.45 163.07,249.32 165.42,249.24 C167.77,249.16 171.29,249.04 172.46,249.00 L172.46,254.00 C171.29,254.01 167.77,254.04 165.42,254.06 C163.07,254.08 160.73,254.15 158.38,254.12 C156.03,254.09 153.69,253.96 151.34,253.88 C148.99,253.80 146.65,253.73 144.30,253.64 C141.95,253.54 139.61,253.41 137.26,253.30 C134.91,253.18 132.57,253.14 130.22,252.95 C127.87,252.77 125.53,252.49 123.18,252.16 C120.83,251.83 118.49,251.34 116.14,250.97 C113.79,250.61 111.45,250.15 109.10,249.98 C106.75,249.82 104.41,249.99 102.06,249.99 C99.71,249.99 97.37,249.92 95.02,250.00 C92.67,250.08 90.33,250.31 87.98,250.46 C85.63,250.62 83.29,250.80 80.94,250.93 C78.59,251.05 76.25,251.15 73.90,251.19 C71.55,251.22 69.21,251.20 66.86,251.15 C64.51,251.10 62.17,251.03 59.82,250.91 C57.47,250.80 55.13,250.60 52.78,250.47 C50.43,250.35 48.09,250.23 45.74,250.14 C43.39,250.04 39.87,249.94 38.70,249.90 Z" fill="#1f8a4c" fill-opacity="0.08" stroke="none"/>
<path d="M38.70,246.80 C39.87,246.58 43.39,245.95 45.74,245.50 C48.09,245.05 50.43,244.43 52.78,244.10 C55.13,243.77 57.47,243.65 59.82,243.50 C62.17,243.35 64.51,243.25 66.86,243.20 C69.21,243.15 71.55,243.13 73.90,243.20 C76.25,243.27 78.59,243.45 80.94,243.60 C83.29,243.75 85.63,243.85 87.98,244.10 C90.33,244.35 92.67,244.85 95.02,245.10 C97.37,245.35 99.71,245.60 102.06,245.60 C104.41,245.60 106.75,245.27 109.10,245.10 C111.45,244.93 113.79,244.73 116.14,244.60 C118.49,244.47 120.83,244.23 123.18,244.30 C125.53,244.37 127.87,244.73 130.22,245.00 C132.57,245.27 134.91,245.67 137.26,245.90 C139.61,246.13 141.95,246.17 144.30,246.40 C146.65,246.63 148.99,246.98 151.34,247.30 C153.69,247.62 156.03,247.97 158.38,248.30 C160.73,248.63 163.07,248.90 165.42,249.30 C167.77,249.70 171.29,250.47 172.46,250.70" fill="none" stroke="#f4533a" stroke-width="1.1" stroke-linecap="butt"/>
<path d="M38.70,246.40 C39.87,245.98 43.39,244.67 45.74,243.90 C48.09,243.13 50.43,242.45 52.78,241.80 C55.13,241.15 57.47,240.60 59.82,240.00 C62.17,239.40 64.51,238.73 66.86,238.20 C69.21,237.67 71.55,237.25 73.90,236.80 C76.25,236.35 78.59,235.89 80.94,235.50 C83.29,235.11 85.63,234.80 87.98,234.45 C90.33,234.10 92.67,233.74 95.02,233.40 C97.37,233.06 99.71,232.73 102.06,232.40 C104.41,232.07 106.75,231.73 109.10,231.40 C111.45,231.07 113.79,230.77 116.14,230.45 C118.49,230.13 120.83,229.89 123.18,229.50 C125.53,229.11 127.87,228.51 130.22,228.10 C132.57,227.69 134.91,227.40 137.26,227.05 C139.61,226.70 141.95,226.40 144.30,226.00 C146.65,225.60 148.99,225.10 151.34,224.65 C153.69,224.20 156.03,223.84 158.38,223.30 C160.73,222.76 163.07,222.03 165.42,221.40 C167.77,220.77 171.29,219.82 172.46,219.50" fill="none" stroke="#ffcc00" stroke-width="1.3" stroke-linecap="butt"/>
<path d="M38.70,247.90 C39.87,247.95 43.39,248.08 45.74,248.20 C48.09,248.32 50.43,248.45 52.78,248.60 C55.13,248.75 57.47,248.97 59.82,249.10 C62.17,249.23 64.51,249.33 66.86,249.40 C69.21,249.47 71.55,249.52 73.90,249.50 C76.25,249.48 78.59,249.40 80.94,249.30 C83.29,249.20 85.63,249.03 87.98,248.90 C90.33,248.77 92.67,248.58 95.02,248.50 C97.37,248.42 99.71,248.43 102.06,248.40 C104.41,248.37 106.75,248.17 109.10,248.30 C111.45,248.43 113.79,248.87 116.14,249.20 C118.49,249.53 120.83,250.00 123.18,250.30 C125.53,250.60 127.87,250.84 130.22,251.00 C132.57,251.16 134.91,251.17 137.26,251.25 C139.61,251.33 141.95,251.43 144.30,251.50 C146.65,251.57 148.99,251.60 151.34,251.65 C153.69,251.70 156.03,251.80 158.38,251.80 C160.73,251.80 163.07,251.70 165.42,251.65 C167.77,251.60 171.29,251.53 172.46,251.50" fill="none" stroke="#1f8a4c" stroke-width="1.3" stroke-linecap="butt"/>
<circle cx="38.7" cy="250.7" r="1.2" fill="#f4533a"/>
<circle cx="45.7" cy="242.9" r="1.2" fill="#f4533a"/>
<circle cx="59.8" cy="245.0" r="1.2" fill="#f4533a"/>
<circle cx="66.9" cy="245.9" r="1.2" fill="#f4533a"/>
<circle cx="73.9" cy="233.0" r="1.2" fill="#f4533a"/>
<circle cx="80.9" cy="244.1" r="1.2" fill="#f4533a"/>
<circle cx="88.0" cy="248.0" r="1.2" fill="#f4533a"/>
<circle cx="102.1" cy="245.6" r="1.2" fill="#f4533a"/>
<circle cx="109.1" cy="244.9" r="1.2" fill="#f4533a"/>
<circle cx="116.1" cy="249.0" r="1.2" fill="#f4533a"/>
<circle cx="123.2" cy="235.6" r="1.2" fill="#f4533a"/>
<circle cx="130.2" cy="245.7" r="1.2" fill="#f4533a"/>
<circle cx="137.3" cy="247.5" r="1.2" fill="#f4533a"/>
<circle cx="144.3" cy="244.6" r="1.2" fill="#f4533a"/>
<circle cx="151.3" cy="248.6" r="1.2" fill="#f4533a"/>
<circle cx="158.4" cy="249.1" r="1.2" fill="#f4533a"/>
<circle cx="172.5" cy="249.7" r="1.2" fill="#f4533a"/>
<circle cx="38.7" cy="246.4" r="1.2" fill="#ffcc00"/>
<circle cx="52.8" cy="241.4" r="1.2" fill="#ffcc00"/>
<circle cx="59.8" cy="238.8" r="1.2" fill="#ffcc00"/>
<circle cx="66.9" cy="238.2" r="1.2" fill="#ffcc00"/>
<circle cx="73.9" cy="237.7" r="1.2" fill="#ffcc00"/>
<circle cx="80.9" cy="238.2" r="1.2" fill="#ffcc00"/>
<circle cx="88.0" cy="229.5" r="1.2" fill="#ffcc00"/>
<circle cx="95.0" cy="234.8" r="1.2" fill="#ffcc00"/>
<circle cx="102.1" cy="233.4" r="1.2" fill="#ffcc00"/>
<circle cx="109.1" cy="230.2" r="1.2" fill="#ffcc00"/>
<circle cx="116.1" cy="232.7" r="1.2" fill="#ffcc00"/>
<circle cx="123.2" cy="230.6" r="1.2" fill="#ffcc00"/>
<circle cx="130.2" cy="226.2" r="1.2" fill="#ffcc00"/>
<circle cx="137.3" cy="226.0" r="1.2" fill="#ffcc00"/>
<circle cx="144.3" cy="224.9" r="1.2" fill="#ffcc00"/>
<circle cx="151.3" cy="224.2" r="1.2" fill="#ffcc00"/>
<circle cx="158.4" cy="222.8" r="1.2" fill="#ffcc00"/>
<circle cx="165.4" cy="221.7" r="1.2" fill="#ffcc00"/>
<circle cx="172.5" cy="217.9" r="1.2" fill="#ffcc00"/>
<circle cx="38.7" cy="248.2" r="1.2" fill="#1f8a4c"/>
<circle cx="45.7" cy="246.8" r="1.2" fill="#1f8a4c"/>
<circle cx="52.8" cy="250.5" r="1.2" fill="#1f8a4c"/>
<circle cx="59.8" cy="249.1" r="1.2" fill="#1f8a4c"/>
<circle cx="66.9" cy="248.8" r="1.2" fill="#1f8a4c"/>
<circle cx="73.9" cy="249.8" r="1.2" fill="#1f8a4c"/>
<circle cx="80.9" cy="252.1" r="1.2" fill="#1f8a4c"/>
<circle cx="88.0" cy="249.8" r="1.2" fill="#1f8a4c"/>
<circle cx="95.0" cy="247.9" r="1.2" fill="#1f8a4c"/>
<circle cx="102.1" cy="247.8" r="1.2" fill="#1f8a4c"/>
<circle cx="109.1" cy="247.8" r="1.2" fill="#1f8a4c"/>
<circle cx="116.1" cy="250.2" r="1.2" fill="#1f8a4c"/>
<circle cx="123.2" cy="250.2" r="1.2" fill="#1f8a4c"/>
<circle cx="130.2" cy="250.7" r="1.2" fill="#1f8a4c"/>
<circle cx="137.3" cy="253.4" r="1.2" fill="#1f8a4c"/>
<circle cx="144.3" cy="252.9" r="1.2" fill="#1f8a4c"/>
<circle cx="151.3" cy="250.7" r="1.2" fill="#1f8a4c"/>
<circle cx="158.4" cy="254.5" r="1.2" fill="#1f8a4c"/>
<circle cx="165.4" cy="251.3" r="1.2" fill="#1f8a4c"/>
<circle cx="172.5" cy="251.5" r="1.2" fill="#1f8a4c"/>
<path d="M221.80,244.30 C222.97,244.06 226.49,243.33 228.84,242.86 C231.19,242.40 233.53,241.90 235.88,241.53 C238.23,241.15 240.57,240.85 242.92,240.59 C245.27,240.32 247.61,240.10 249.96,239.95 C252.31,239.80 254.65,239.71 257.00,239.71 C259.35,239.72 261.69,239.88 264.04,239.97 C266.39,240.07 268.73,240.18 271.08,240.29 C273.43,240.39 275.77,240.42 278.12,240.60 C280.47,240.78 282.81,241.23 285.16,241.37 C287.51,241.51 289.85,241.40 292.20,241.45 C294.55,241.49 296.89,241.56 299.24,241.62 C301.59,241.68 303.93,241.66 306.28,241.79 C308.63,241.92 310.97,242.21 313.32,242.41 C315.67,242.62 318.01,242.89 320.36,243.04 C322.71,243.19 325.05,243.22 327.40,243.31 C329.75,243.40 332.09,243.51 334.44,243.58 C336.79,243.66 339.13,243.70 341.48,243.75 C343.83,243.81 346.17,243.89 348.52,243.93 C350.87,243.97 354.39,243.99 355.56,244.00 L355.56,254.00 C354.39,253.91 350.87,253.67 348.52,253.47 C346.17,253.28 343.83,253.05 341.48,252.85 C339.13,252.64 336.79,252.44 334.44,252.22 C332.09,251.99 329.75,251.73 327.40,251.49 C325.05,251.25 322.71,251.06 320.36,250.76 C318.01,250.46 315.67,250.05 313.32,249.69 C310.97,249.33 308.63,248.89 306.28,248.61 C303.93,248.32 301.59,248.19 299.24,247.98 C296.89,247.77 294.55,247.55 292.20,247.35 C289.85,247.16 287.51,247.12 285.16,246.83 C282.81,246.53 280.47,245.84 278.12,245.60 C275.77,245.36 273.43,245.47 271.08,245.41 C268.73,245.35 266.39,245.28 264.04,245.22 C261.69,245.17 259.35,245.05 257.00,245.09 C254.65,245.12 252.31,245.26 249.96,245.45 C247.61,245.64 245.27,245.91 242.92,246.21 C240.57,246.52 238.23,246.85 235.88,247.28 C233.53,247.70 231.19,248.23 228.84,248.74 C226.49,249.24 222.97,250.04 221.80,250.30 Z" fill="#f4533a" fill-opacity="0.07" stroke="none"/>
<path d="M221.80,244.30 C222.97,243.91 226.49,242.68 228.84,241.96 C231.19,241.25 233.53,240.59 235.88,240.03 C238.23,239.46 240.57,239.02 242.92,238.59 C245.27,238.16 247.61,237.80 249.96,237.45 C252.31,237.10 254.65,236.74 257.00,236.51 C259.35,236.28 261.69,236.09 264.04,236.07 C266.39,236.06 268.73,236.32 271.08,236.44 C273.43,236.56 275.77,236.71 278.12,236.80 C280.47,236.89 282.81,236.91 285.16,236.97 C287.51,237.02 289.85,237.08 292.20,237.14 C294.55,237.19 296.89,237.25 299.24,237.30 C301.59,237.36 303.93,237.52 306.28,237.47 C308.63,237.43 310.97,237.18 313.32,237.04 C315.67,236.90 318.01,236.76 320.36,236.61 C322.71,236.46 325.05,236.29 327.40,236.13 C329.75,235.97 332.09,235.83 334.44,235.65 C336.79,235.46 339.13,235.22 341.48,235.01 C343.83,234.80 346.17,234.63 348.52,234.38 C350.87,234.13 354.39,233.65 355.56,233.50 L355.56,241.50 C354.39,241.59 350.87,241.89 348.52,242.02 C346.17,242.15 343.83,242.20 341.48,242.29 C339.13,242.38 336.79,242.49 334.44,242.55 C332.09,242.62 329.75,242.63 327.40,242.67 C325.05,242.71 322.71,242.76 320.36,242.79 C318.01,242.82 315.67,242.84 313.32,242.86 C310.97,242.88 308.63,243.00 306.28,242.93 C303.93,242.85 301.59,242.57 299.24,242.40 C296.89,242.22 294.55,242.04 292.20,241.86 C289.85,241.69 287.51,241.51 285.16,241.33 C282.81,241.15 280.47,240.93 278.12,240.80 C275.77,240.67 273.43,240.64 271.08,240.56 C268.73,240.48 266.39,240.27 264.04,240.32 C261.69,240.38 259.35,240.62 257.00,240.89 C254.65,241.16 252.31,241.56 249.96,241.95 C247.61,242.34 245.27,242.74 242.92,243.21 C240.57,243.68 238.23,244.17 235.88,244.78 C233.53,245.38 231.19,246.08 228.84,246.84 C226.49,247.59 222.97,248.89 221.80,249.30 Z" fill="#ffcc00" fill-opacity="0.13" stroke="none"/>
<path d="M221.80,245.80 C222.97,245.89 226.49,246.11 228.84,246.36 C231.19,246.62 233.53,247.04 235.88,247.32 C238.23,247.61 240.57,247.82 242.92,248.09 C245.27,248.36 247.61,248.63 249.96,248.95 C252.31,249.27 254.65,249.69 257.00,250.01 C259.35,250.33 261.69,250.66 264.04,250.88 C266.39,251.09 268.73,251.15 271.08,251.29 C273.43,251.42 275.77,251.55 278.12,251.70 C280.47,251.85 282.81,252.01 285.16,252.16 C287.51,252.32 289.85,252.44 292.20,252.63 C294.55,252.82 296.89,253.07 299.24,253.29 C301.59,253.51 303.93,253.68 306.28,253.95 C308.63,254.23 310.97,254.60 313.32,254.92 C315.67,255.24 318.01,255.63 320.36,255.88 C322.71,256.14 325.05,256.26 327.40,256.45 C329.75,256.63 332.09,256.81 334.44,257.01 C336.79,257.21 339.13,257.42 341.48,257.62 C343.83,257.83 346.17,258.01 348.52,258.24 C350.87,258.47 354.39,258.87 355.56,259.00 L355.56,265.00 C354.39,264.83 350.87,264.28 348.52,263.96 C346.17,263.64 343.83,263.37 341.48,263.08 C339.13,262.78 336.79,262.48 334.44,262.19 C332.09,261.90 329.75,261.63 327.40,261.35 C325.05,261.08 322.71,260.86 320.36,260.52 C318.01,260.17 315.67,259.69 313.32,259.28 C310.97,258.87 308.63,258.41 306.28,258.05 C303.93,257.68 301.59,257.42 299.24,257.11 C296.89,256.80 294.55,256.45 292.20,256.17 C289.85,255.89 287.51,255.68 285.16,255.44 C282.81,255.19 280.47,254.87 278.12,254.70 C275.77,254.53 273.43,254.51 271.08,254.41 C268.73,254.32 266.39,254.30 264.04,254.12 C261.69,253.95 259.35,253.67 257.00,253.39 C254.65,253.11 252.31,252.73 249.96,252.45 C247.61,252.17 245.27,251.94 242.92,251.71 C240.57,251.48 238.23,251.32 235.88,251.07 C233.53,250.83 231.19,250.45 228.84,250.24 C226.49,250.03 222.97,249.87 221.80,249.80 Z" fill="#1f8a4c" fill-opacity="0.08" stroke="none"/>
<path d="M221.80,247.30 C222.97,247.05 226.49,246.28 228.84,245.80 C231.19,245.32 233.53,244.80 235.88,244.40 C238.23,244.00 240.57,243.68 242.92,243.40 C245.27,243.12 247.61,242.87 249.96,242.70 C252.31,242.53 254.65,242.42 257.00,242.40 C259.35,242.38 261.69,242.53 264.04,242.60 C266.39,242.67 268.73,242.77 271.08,242.85 C273.43,242.93 275.77,242.89 278.12,243.10 C280.47,243.31 282.81,243.88 285.16,244.10 C287.51,244.32 289.85,244.28 292.20,244.40 C294.55,244.52 296.89,244.67 299.24,244.80 C301.59,244.93 303.93,244.99 306.28,245.20 C308.63,245.41 310.97,245.77 313.32,246.05 C315.67,246.33 318.01,246.68 320.36,246.90 C322.71,247.12 325.05,247.23 327.40,247.40 C329.75,247.57 332.09,247.75 334.44,247.90 C336.79,248.05 339.13,248.17 341.48,248.30 C343.83,248.43 346.17,248.58 348.52,248.70 C350.87,248.82 354.39,248.95 355.56,249.00" fill="none" stroke="#f4533a" stroke-width="1.1" stroke-linecap="butt"/>
<path d="M221.80,246.80 C222.97,246.40 226.49,245.13 228.84,244.40 C231.19,243.67 233.53,242.98 235.88,242.40 C238.23,241.82 240.57,241.35 242.92,240.90 C245.27,240.45 247.61,240.07 249.96,239.70 C252.31,239.33 254.65,238.95 257.00,238.70 C259.35,238.45 261.69,238.23 264.04,238.20 C266.39,238.17 268.73,238.40 271.08,238.50 C273.43,238.60 275.77,238.69 278.12,238.80 C280.47,238.91 282.81,239.03 285.16,239.15 C287.51,239.27 289.85,239.38 292.20,239.50 C294.55,239.62 296.89,239.73 299.24,239.85 C301.59,239.97 303.93,240.18 306.28,240.20 C308.63,240.22 310.97,240.03 313.32,239.95 C315.67,239.87 318.01,239.79 320.36,239.70 C322.71,239.61 325.05,239.50 327.40,239.40 C329.75,239.30 332.09,239.22 334.44,239.10 C336.79,238.97 339.13,238.80 341.48,238.65 C343.83,238.50 346.17,238.39 348.52,238.20 C350.87,238.01 354.39,237.62 355.56,237.50" fill="none" stroke="#ffcc00" stroke-width="1.3" stroke-linecap="butt"/>
<path d="M221.80,247.80 C222.97,247.88 226.49,248.07 228.84,248.30 C231.19,248.53 233.53,248.93 235.88,249.20 C238.23,249.47 240.57,249.65 242.92,249.90 C245.27,250.15 247.61,250.40 249.96,250.70 C252.31,251.00 254.65,251.40 257.00,251.70 C259.35,252.00 261.69,252.31 264.04,252.50 C266.39,252.69 268.73,252.73 271.08,252.85 C273.43,252.97 275.77,253.04 278.12,253.20 C280.47,253.36 282.81,253.60 285.16,253.80 C287.51,254.00 289.85,254.17 292.20,254.40 C294.55,254.63 296.89,254.93 299.24,255.20 C301.59,255.47 303.93,255.68 306.28,256.00 C308.63,256.32 310.97,256.73 313.32,257.10 C315.67,257.47 318.01,257.90 320.36,258.20 C322.71,258.50 325.05,258.67 327.40,258.90 C329.75,259.13 332.09,259.36 334.44,259.60 C336.79,259.84 339.13,260.10 341.48,260.35 C343.83,260.60 346.17,260.83 348.52,261.10 C350.87,261.38 354.39,261.85 355.56,262.00" fill="none" stroke="#1f8a4c" stroke-width="1.3" stroke-linecap="butt"/>
<circle cx="221.8" cy="249.2" r="1.2" fill="#f4533a"/>
<circle cx="228.8" cy="244.8" r="1.2" fill="#f4533a"/>
<circle cx="242.9" cy="246.8" r="1.2" fill="#f4533a"/>
<circle cx="250.0" cy="244.4" r="1.2" fill="#f4533a"/>
<circle cx="257.0" cy="233.1" r="1.2" fill="#f4533a"/>
<circle cx="264.0" cy="245.5" r="1.2" fill="#f4533a"/>
<circle cx="271.1" cy="248.8" r="1.2" fill="#f4533a"/>
<circle cx="278.1" cy="242.9" r="1.2" fill="#f4533a"/>
<circle cx="285.2" cy="240.0" r="1.2" fill="#f4533a"/>
<circle cx="292.2" cy="245.8" r="1.2" fill="#f4533a"/>
<circle cx="299.2" cy="251.7" r="1.2" fill="#f4533a"/>
<circle cx="306.3" cy="238.2" r="1.2" fill="#f4533a"/>
<circle cx="313.3" cy="244.9" r="1.2" fill="#f4533a"/>
<circle cx="320.4" cy="248.2" r="1.2" fill="#f4533a"/>
<circle cx="327.4" cy="246.9" r="1.2" fill="#f4533a"/>
<circle cx="334.4" cy="250.8" r="1.2" fill="#f4533a"/>
<circle cx="341.5" cy="247.6" r="1.2" fill="#f4533a"/>
<circle cx="348.5" cy="252.3" r="1.2" fill="#f4533a"/>
<circle cx="355.6" cy="245.8" r="1.2" fill="#f4533a"/>
<circle cx="221.8" cy="244.8" r="1.2" fill="#ffcc00"/>
<circle cx="228.8" cy="249.4" r="1.2" fill="#ffcc00"/>
<circle cx="235.9" cy="241.9" r="1.2" fill="#ffcc00"/>
<circle cx="242.9" cy="238.5" r="1.2" fill="#ffcc00"/>
<circle cx="250.0" cy="240.9" r="1.2" fill="#ffcc00"/>
<circle cx="257.0" cy="237.7" r="1.2" fill="#ffcc00"/>
<circle cx="264.0" cy="238.0" r="1.2" fill="#ffcc00"/>
<circle cx="271.1" cy="235.8" r="1.2" fill="#ffcc00"/>
<circle cx="278.1" cy="240.0" r="1.2" fill="#ffcc00"/>
<circle cx="285.2" cy="236.7" r="1.2" fill="#ffcc00"/>
<circle cx="292.2" cy="242.7" r="1.2" fill="#ffcc00"/>
<circle cx="299.2" cy="242.7" r="1.2" fill="#ffcc00"/>
<circle cx="306.3" cy="241.7" r="1.2" fill="#ffcc00"/>
<circle cx="313.3" cy="236.7" r="1.2" fill="#ffcc00"/>
<circle cx="320.4" cy="237.9" r="1.2" fill="#ffcc00"/>
<circle cx="327.4" cy="238.5" r="1.2" fill="#ffcc00"/>
<circle cx="334.4" cy="238.7" r="1.2" fill="#ffcc00"/>
<circle cx="341.5" cy="239.4" r="1.2" fill="#ffcc00"/>
<circle cx="348.5" cy="241.4" r="1.2" fill="#ffcc00"/>
<circle cx="355.6" cy="235.2" r="1.2" fill="#ffcc00"/>
<circle cx="221.8" cy="247.8" r="1.2" fill="#1f8a4c"/>
<circle cx="228.8" cy="248.5" r="1.2" fill="#1f8a4c"/>
<circle cx="235.9" cy="250.2" r="1.2" fill="#1f8a4c"/>
<circle cx="242.9" cy="251.0" r="1.2" fill="#1f8a4c"/>
<circle cx="250.0" cy="249.2" r="1.2" fill="#1f8a4c"/>
<circle cx="257.0" cy="252.2" r="1.2" fill="#1f8a4c"/>
<circle cx="264.0" cy="253.2" r="1.2" fill="#1f8a4c"/>
<circle cx="271.1" cy="252.0" r="1.2" fill="#1f8a4c"/>
<circle cx="278.1" cy="253.2" r="1.2" fill="#1f8a4c"/>
<circle cx="285.2" cy="254.9" r="1.2" fill="#1f8a4c"/>
<circle cx="292.2" cy="254.1" r="1.2" fill="#1f8a4c"/>
<circle cx="299.2" cy="255.3" r="1.2" fill="#1f8a4c"/>
<circle cx="306.3" cy="255.9" r="1.2" fill="#1f8a4c"/>
<circle cx="313.3" cy="256.3" r="1.2" fill="#1f8a4c"/>
<circle cx="320.4" cy="259.9" r="1.2" fill="#1f8a4c"/>
<circle cx="327.4" cy="259.9" r="1.2" fill="#1f8a4c"/>
<circle cx="334.4" cy="259.0" r="1.2" fill="#1f8a4c"/>
<circle cx="341.5" cy="263.4" r="1.2" fill="#1f8a4c"/>
<circle cx="348.5" cy="260.2" r="1.2" fill="#1f8a4c"/>
<circle cx="355.6" cy="262.0" r="1.2" fill="#1f8a4c"/>
<path d="M404.80,240.70 C405.97,240.83 409.49,241.12 411.84,241.46 C414.19,241.79 416.53,242.26 418.88,242.71 C421.23,243.17 423.57,243.72 425.92,244.17 C428.27,244.62 430.61,244.96 432.96,245.43 C435.31,245.90 437.65,246.45 440.00,246.99 C442.35,247.52 444.69,248.06 447.04,248.64 C449.39,249.23 451.73,249.91 454.08,250.50 C456.43,251.09 458.77,251.57 461.12,252.20 C463.47,252.83 465.81,253.75 468.16,254.30 C470.51,254.85 472.85,255.13 475.20,255.50 C477.55,255.87 479.89,256.20 482.24,256.50 C484.59,256.80 486.93,257.14 489.28,257.30 C491.63,257.46 493.97,257.29 496.32,257.49 C498.67,257.68 501.01,258.06 503.36,258.47 C505.71,258.88 508.05,259.38 510.40,259.96 C512.75,260.54 515.09,261.33 517.44,261.94 C519.79,262.55 522.13,263.08 524.48,263.63 C526.83,264.17 529.17,264.69 531.52,265.21 C533.87,265.74 537.39,266.54 538.56,266.80 L538.56,288.80 C537.39,288.30 533.87,286.79 531.52,285.79 C529.17,284.78 526.83,283.79 524.48,282.77 C522.13,281.75 519.79,280.75 517.44,279.66 C515.09,278.57 512.75,277.30 510.40,276.24 C508.05,275.19 505.71,274.22 503.36,273.33 C501.01,272.44 498.67,271.59 496.32,270.91 C493.97,270.24 491.63,269.64 489.28,269.30 C486.93,268.96 484.59,269.07 482.24,268.90 C479.89,268.73 477.55,268.53 475.20,268.30 C472.85,268.07 470.51,267.92 468.16,267.50 C465.81,267.08 463.47,266.30 461.12,265.80 C458.77,265.30 456.43,265.07 454.08,264.50 C451.73,263.93 449.39,263.04 447.04,262.36 C444.69,261.68 442.35,261.05 440.00,260.41 C437.65,259.78 435.31,259.14 432.96,258.57 C430.61,258.01 428.27,257.58 425.92,257.03 C423.57,256.48 421.23,255.83 418.88,255.29 C416.53,254.74 414.19,254.17 411.84,253.74 C409.49,253.31 405.97,252.87 404.80,252.70 Z" fill="#f4533a" fill-opacity="0.07" stroke="none"/>
<path d="M404.80,243.50 C405.97,243.24 409.49,242.49 411.84,241.96 C414.19,241.43 416.53,240.89 418.88,240.32 C421.23,239.76 423.57,239.15 425.92,238.59 C428.27,238.03 430.61,237.51 432.96,236.95 C435.31,236.39 437.65,235.72 440.00,235.21 C442.35,234.70 444.69,234.25 447.04,233.88 C449.39,233.50 451.73,233.20 454.08,232.94 C456.43,232.68 458.77,232.76 461.12,232.30 C463.47,231.84 465.81,230.95 468.16,230.15 C470.51,229.35 472.85,228.27 475.20,227.50 C477.55,226.73 479.89,226.23 482.24,225.55 C484.59,224.87 486.93,224.13 489.28,223.40 C491.63,222.67 493.97,221.95 496.32,221.15 C498.67,220.35 501.01,219.42 503.36,218.60 C505.71,217.78 508.05,216.97 510.40,216.20 C512.75,215.43 515.09,214.78 517.44,214.00 C519.79,213.22 522.13,212.38 524.48,211.50 C526.83,210.62 529.17,209.57 531.52,208.70 C533.87,207.83 537.39,206.70 538.56,206.30 L538.56,226.30 C537.39,226.30 533.87,226.23 531.52,226.30 C529.17,226.37 526.83,226.62 524.48,226.70 C522.13,226.78 519.79,226.82 517.44,226.80 C515.09,226.78 512.75,226.63 510.40,226.60 C508.05,226.57 505.71,226.26 503.36,226.60 C501.01,226.94 498.67,228.02 496.32,228.65 C493.97,229.28 491.63,229.83 489.28,230.40 C486.93,230.97 484.59,231.53 482.24,232.05 C479.89,232.57 477.55,232.90 475.20,233.50 C472.85,234.10 470.51,235.02 468.16,235.65 C465.81,236.28 463.47,236.90 461.12,237.30 C458.77,237.70 456.43,237.76 454.08,238.06 C451.73,238.37 449.39,238.70 447.04,239.12 C444.69,239.55 442.35,240.03 440.00,240.59 C437.65,241.14 435.31,241.85 432.96,242.45 C430.61,243.05 428.27,243.61 425.92,244.21 C423.57,244.82 421.23,245.47 418.88,246.07 C416.53,246.68 414.19,247.27 411.84,247.84 C409.49,248.41 405.97,249.22 404.80,249.50 Z" fill="#ffcc00" fill-opacity="0.13" stroke="none"/>
<path d="M404.80,245.10 C405.97,245.19 409.49,245.41 411.84,245.66 C414.19,245.92 416.53,246.29 418.88,246.62 C421.23,246.96 423.57,247.47 425.92,247.69 C428.27,247.91 430.61,247.85 432.96,247.95 C435.31,248.05 437.65,248.32 440.00,248.31 C442.35,248.30 444.69,247.99 447.04,247.88 C449.39,247.76 451.73,247.93 454.08,247.64 C456.43,247.34 458.77,246.65 461.12,246.10 C463.47,245.55 465.81,244.76 468.16,244.36 C470.51,243.97 472.85,243.81 475.20,243.73 C477.55,243.65 479.89,243.85 482.24,243.89 C484.59,243.93 486.93,243.97 489.28,243.95 C491.63,243.94 493.97,243.86 496.32,243.82 C498.67,243.77 501.01,243.73 503.36,243.68 C505.71,243.64 508.05,243.72 510.40,243.55 C512.75,243.37 515.09,242.90 517.44,242.61 C519.79,242.31 522.13,242.12 524.48,241.77 C526.83,241.43 529.17,240.98 531.52,240.54 C533.87,240.09 537.39,239.34 538.56,239.10 L538.56,246.10 C537.39,246.29 533.87,246.91 531.52,247.26 C529.17,247.62 526.83,247.97 524.48,248.23 C522.13,248.48 519.79,248.59 517.44,248.79 C515.09,249.00 512.75,249.37 510.40,249.45 C508.05,249.54 505.71,249.36 503.36,249.32 C501.01,249.27 498.67,249.23 496.32,249.18 C493.97,249.14 491.63,249.12 489.28,249.05 C486.93,248.97 484.59,248.84 482.24,248.71 C479.89,248.58 477.55,248.28 475.20,248.27 C472.85,248.26 470.51,248.33 468.16,248.64 C465.81,248.94 463.47,249.58 461.12,250.10 C458.77,250.62 456.43,251.42 454.08,251.76 C451.73,252.10 449.39,251.97 447.04,252.12 C444.69,252.28 442.35,252.63 440.00,252.69 C437.65,252.74 435.31,252.51 432.96,252.45 C430.61,252.39 428.27,252.49 425.92,252.31 C423.57,252.13 421.23,251.67 418.88,251.38 C416.53,251.08 414.19,250.75 411.84,250.54 C409.49,250.32 405.97,250.17 404.80,250.10 Z" fill="#1f8a4c" fill-opacity="0.08" stroke="none"/>
<path d="M404.80,246.70 C405.97,246.85 409.49,247.22 411.84,247.60 C414.19,247.98 416.53,248.50 418.88,249.00 C421.23,249.50 423.57,250.10 425.92,250.60 C428.27,251.10 430.61,251.48 432.96,252.00 C435.31,252.52 437.65,253.12 440.00,253.70 C442.35,254.28 444.69,254.87 447.04,255.50 C449.39,256.13 451.73,256.92 454.08,257.50 C456.43,258.08 458.77,258.43 461.12,259.00 C463.47,259.57 465.81,260.42 468.16,260.90 C470.51,261.38 472.85,261.60 475.20,261.90 C477.55,262.20 479.89,262.47 482.24,262.70 C484.59,262.93 486.93,263.05 489.28,263.30 C491.63,263.55 493.97,263.77 496.32,264.20 C498.67,264.63 501.01,265.25 503.36,265.90 C505.71,266.55 508.05,267.28 510.40,268.10 C512.75,268.92 515.09,269.95 517.44,270.80 C519.79,271.65 522.13,272.42 524.48,273.20 C526.83,273.98 529.17,274.73 531.52,275.50 C533.87,276.27 537.39,277.42 538.56,277.80" fill="none" stroke="#f4533a" stroke-width="1.1" stroke-linecap="butt"/>
<path d="M404.80,246.50 C405.97,246.23 409.49,245.45 411.84,244.90 C414.19,244.35 416.53,243.78 418.88,243.20 C421.23,242.62 423.57,241.98 425.92,241.40 C428.27,240.82 430.61,240.28 432.96,239.70 C435.31,239.12 437.65,238.43 440.00,237.90 C442.35,237.37 444.69,236.90 447.04,236.50 C449.39,236.10 451.73,235.78 454.08,235.50 C456.43,235.22 458.77,235.23 461.12,234.80 C463.47,234.37 465.81,233.62 468.16,232.90 C470.51,232.18 472.85,231.18 475.20,230.50 C477.55,229.82 479.89,229.40 482.24,228.80 C484.59,228.20 486.93,227.55 489.28,226.90 C491.63,226.25 493.97,225.62 496.32,224.90 C498.67,224.18 501.01,223.18 503.36,222.60 C505.71,222.02 508.05,221.77 510.40,221.40 C512.75,221.03 515.09,220.78 517.44,220.40 C519.79,220.02 522.13,219.58 524.48,219.10 C526.83,218.62 529.17,217.97 531.52,217.50 C533.87,217.03 537.39,216.50 538.56,216.30" fill="none" stroke="#ffcc00" stroke-width="1.3" stroke-linecap="butt"/>
<path d="M404.80,247.60 C405.97,247.68 409.49,247.87 411.84,248.10 C414.19,248.33 416.53,248.68 418.88,249.00 C421.23,249.32 423.57,249.80 425.92,250.00 C428.27,250.20 430.61,250.12 432.96,250.20 C435.31,250.28 437.65,250.53 440.00,250.50 C442.35,250.47 444.69,250.13 447.04,250.00 C449.39,249.87 451.73,250.02 454.08,249.70 C456.43,249.38 458.77,248.63 461.12,248.10 C463.47,247.57 465.81,246.85 468.16,246.50 C470.51,246.15 472.85,246.03 475.20,246.00 C477.55,245.97 479.89,246.22 482.24,246.30 C484.59,246.38 486.93,246.47 489.28,246.50 C491.63,246.53 493.97,246.50 496.32,246.50 C498.67,246.50 501.01,246.50 503.36,246.50 C505.71,246.50 508.05,246.63 510.40,246.50 C512.75,246.37 515.09,245.95 517.44,245.70 C519.79,245.45 522.13,245.30 524.48,245.00 C526.83,244.70 529.17,244.30 531.52,243.90 C533.87,243.50 537.39,242.82 538.56,242.60" fill="none" stroke="#1f8a4c" stroke-width="1.3" stroke-linecap="butt"/>
<circle cx="404.8" cy="247.3" r="1.2" fill="#f4533a"/>
<circle cx="411.8" cy="246.7" r="1.2" fill="#f4533a"/>
<circle cx="425.9" cy="258.4" r="1.2" fill="#f4533a"/>
<circle cx="433.0" cy="252.3" r="1.2" fill="#f4533a"/>
<circle cx="440.0" cy="244.1" r="1.2" fill="#f4533a"/>
<circle cx="447.0" cy="252.8" r="1.2" fill="#f4533a"/>
<circle cx="454.1" cy="262.2" r="1.2" fill="#f4533a"/>
<circle cx="461.1" cy="259.0" r="1.2" fill="#f4533a"/>
<circle cx="468.2" cy="265.3" r="1.2" fill="#f4533a"/>
<circle cx="475.2" cy="261.7" r="1.2" fill="#f4533a"/>
<circle cx="482.2" cy="268.4" r="1.2" fill="#f4533a"/>
<circle cx="489.3" cy="250.7" r="1.2" fill="#f4533a"/>
<circle cx="496.3" cy="268.4" r="1.2" fill="#f4533a"/>
<circle cx="503.4" cy="269.5" r="1.2" fill="#f4533a"/>
<circle cx="510.4" cy="264.8" r="1.2" fill="#f4533a"/>
<circle cx="517.4" cy="270.0" r="1.2" fill="#f4533a"/>
<circle cx="524.5" cy="275.8" r="1.2" fill="#f4533a"/>
<circle cx="531.5" cy="276.3" r="1.2" fill="#f4533a"/>
<circle cx="538.6" cy="276.8" r="1.2" fill="#f4533a"/>
<circle cx="404.8" cy="245.8" r="1.2" fill="#ffcc00"/>
<circle cx="418.9" cy="242.6" r="1.2" fill="#ffcc00"/>
<circle cx="425.9" cy="242.2" r="1.2" fill="#ffcc00"/>
<circle cx="433.0" cy="234.0" r="1.2" fill="#ffcc00"/>
<circle cx="440.0" cy="239.1" r="1.2" fill="#ffcc00"/>
<circle cx="447.0" cy="237.3" r="1.2" fill="#ffcc00"/>
<circle cx="454.1" cy="233.5" r="1.2" fill="#ffcc00"/>
<circle cx="461.1" cy="234.0" r="1.2" fill="#ffcc00"/>
<circle cx="468.2" cy="236.6" r="1.2" fill="#ffcc00"/>
<circle cx="475.2" cy="229.3" r="1.2" fill="#ffcc00"/>
<circle cx="482.2" cy="230.0" r="1.2" fill="#ffcc00"/>
<circle cx="489.3" cy="226.9" r="1.2" fill="#ffcc00"/>
<circle cx="496.3" cy="224.1" r="1.2" fill="#ffcc00"/>
<circle cx="503.4" cy="222.2" r="1.2" fill="#ffcc00"/>
<circle cx="510.4" cy="223.0" r="1.2" fill="#ffcc00"/>
<circle cx="517.4" cy="220.7" r="1.2" fill="#ffcc00"/>
<circle cx="524.5" cy="220.7" r="1.2" fill="#ffcc00"/>
<circle cx="531.5" cy="215.7" r="1.2" fill="#ffcc00"/>
<circle cx="538.6" cy="216.3" r="1.2" fill="#ffcc00"/>
<circle cx="404.8" cy="249.9" r="1.2" fill="#1f8a4c"/>
<circle cx="411.8" cy="244.4" r="1.2" fill="#1f8a4c"/>
<circle cx="425.9" cy="252.6" r="1.2" fill="#1f8a4c"/>
<circle cx="433.0" cy="249.3" r="1.2" fill="#1f8a4c"/>
<circle cx="440.0" cy="252.8" r="1.2" fill="#1f8a4c"/>
<circle cx="447.0" cy="250.8" r="1.2" fill="#1f8a4c"/>
<circle cx="454.1" cy="251.5" r="1.2" fill="#1f8a4c"/>
<circle cx="461.1" cy="247.0" r="1.2" fill="#1f8a4c"/>
<circle cx="468.2" cy="244.2" r="1.2" fill="#1f8a4c"/>
<circle cx="475.2" cy="246.0" r="1.2" fill="#1f8a4c"/>
<circle cx="482.2" cy="247.3" r="1.2" fill="#1f8a4c"/>
<circle cx="489.3" cy="246.5" r="1.2" fill="#1f8a4c"/>
<circle cx="496.3" cy="247.0" r="1.2" fill="#1f8a4c"/>
<circle cx="503.4" cy="247.0" r="1.2" fill="#1f8a4c"/>
<circle cx="510.4" cy="248.9" r="1.2" fill="#1f8a4c"/>
<circle cx="517.4" cy="244.2" r="1.2" fill="#1f8a4c"/>
<circle cx="524.5" cy="247.6" r="1.2" fill="#1f8a4c"/>
<circle cx="531.5" cy="243.9" r="1.2" fill="#1f8a4c"/>
<circle cx="538.6" cy="242.1" r="1.2" fill="#1f8a4c"/>
<path d="M38.70,454.70 C39.87,454.26 43.39,452.85 45.74,452.07 C48.09,451.30 50.43,450.74 52.78,450.05 C55.13,449.36 57.47,448.55 59.82,447.93 C62.17,447.30 64.51,446.71 66.86,446.30 C69.21,445.89 71.55,445.65 73.90,445.48 C76.25,445.30 78.59,445.27 80.94,445.25 C83.29,445.23 85.63,445.45 87.98,445.32 C90.33,445.20 92.67,444.89 95.02,444.50 C97.37,444.11 99.71,443.73 102.06,443.00 C104.41,442.27 106.75,441.07 109.10,440.10 C111.45,439.13 113.79,438.12 116.14,437.20 C118.49,436.28 120.83,435.55 123.18,434.60 C125.53,433.65 127.87,432.38 130.22,431.50 C132.57,430.62 134.91,430.03 137.26,429.30 C139.61,428.57 141.95,427.80 144.30,427.10 C146.65,426.40 148.99,425.77 151.34,425.10 C153.69,424.43 156.03,423.73 158.38,423.10 C160.73,422.48 163.07,421.93 165.42,421.35 C167.77,420.77 171.29,419.89 172.46,419.60 L172.46,445.60 C171.29,445.56 167.77,445.43 165.42,445.35 C163.07,445.27 160.73,445.14 158.38,445.10 C156.03,445.06 153.69,445.10 151.34,445.10 C148.99,445.10 146.65,445.07 144.30,445.10 C141.95,445.13 139.61,445.23 137.26,445.30 C134.91,445.37 132.57,445.28 130.22,445.50 C127.87,445.72 125.53,446.15 123.18,446.60 C120.83,447.05 118.49,447.62 116.14,448.20 C113.79,448.78 111.45,449.47 109.10,450.10 C106.75,450.73 104.41,451.60 102.06,452.00 C99.71,452.40 97.37,452.32 95.02,452.50 C92.67,452.68 90.33,453.03 87.98,453.07 C85.63,453.12 83.29,452.81 80.94,452.75 C78.59,452.69 76.25,452.63 73.90,452.73 C71.55,452.82 69.21,452.98 66.86,453.30 C64.51,453.62 62.17,454.13 59.82,454.68 C57.47,455.22 55.13,455.94 52.78,456.55 C50.43,457.16 48.09,457.63 45.74,458.32 C43.39,459.02 39.87,460.30 38.70,460.70 Z" fill="#f4533a" fill-opacity="0.07" stroke="none"/>
<path d="M38.70,455.20 C39.87,455.13 43.39,454.91 45.74,454.76 C48.09,454.62 50.43,454.50 52.78,454.32 C55.13,454.15 57.47,453.93 59.82,453.74 C62.17,453.54 64.51,453.36 66.86,453.15 C69.21,452.94 71.55,452.69 73.90,452.46 C76.25,452.23 78.59,452.03 80.94,451.77 C83.29,451.52 85.63,451.22 87.98,450.94 C90.33,450.66 92.67,450.44 95.02,450.10 C97.37,449.76 99.71,449.31 102.06,448.91 C104.41,448.51 106.75,448.12 109.10,447.72 C111.45,447.32 113.79,446.92 116.14,446.53 C118.49,446.13 120.83,445.78 123.18,445.34 C125.53,444.89 127.87,444.33 130.22,443.85 C132.57,443.37 134.91,442.92 137.26,442.45 C139.61,441.99 141.95,441.45 144.30,441.06 C146.65,440.68 148.99,440.44 151.34,440.12 C153.69,439.81 156.03,439.50 158.38,439.18 C160.73,438.86 163.07,438.52 165.42,438.19 C167.77,437.86 171.29,437.37 172.46,437.20 L172.46,449.80 C171.29,449.83 167.77,449.94 165.42,450.01 C163.07,450.08 160.73,450.16 158.38,450.22 C156.03,450.28 153.69,450.32 151.34,450.38 C148.99,450.43 146.65,450.41 144.30,450.54 C141.95,450.66 139.61,450.94 137.26,451.15 C134.91,451.35 132.57,451.53 130.22,451.75 C127.87,451.97 125.53,452.28 123.18,452.46 C120.83,452.65 118.49,452.74 116.14,452.87 C113.79,453.01 111.45,453.15 109.10,453.28 C106.75,453.42 104.41,453.55 102.06,453.69 C99.71,453.83 97.37,453.87 95.02,454.10 C92.67,454.33 90.33,454.74 87.98,455.06 C85.63,455.38 83.29,455.73 80.94,456.02 C78.59,456.32 76.25,456.57 73.90,456.84 C71.55,457.11 69.21,457.40 66.86,457.65 C64.51,457.90 62.17,458.12 59.82,458.36 C57.47,458.60 55.13,458.86 52.78,459.07 C50.43,459.29 48.09,459.45 45.74,459.64 C43.39,459.82 39.87,460.11 38.70,460.20 Z" fill="#ffcc00" fill-opacity="0.13" stroke="none"/>
<path d="M38.70,457.60 C39.87,457.44 43.39,456.84 45.74,456.66 C48.09,456.48 50.43,456.52 52.78,456.52 C55.13,456.53 57.47,456.63 59.82,456.69 C62.17,456.74 64.51,456.79 66.86,456.85 C69.21,456.91 71.55,456.99 73.90,457.06 C76.25,457.13 78.59,457.30 80.94,457.27 C83.29,457.25 85.63,457.02 87.98,456.89 C90.33,456.76 92.67,456.62 95.02,456.50 C97.37,456.38 99.71,456.18 102.06,456.16 C104.41,456.15 106.75,456.26 109.10,456.43 C111.45,456.60 113.79,457.00 116.14,457.19 C118.49,457.38 120.83,457.37 123.18,457.55 C125.53,457.74 127.87,458.11 130.22,458.32 C132.57,458.52 134.91,458.63 137.26,458.78 C139.61,458.94 141.95,459.19 144.30,459.25 C146.65,459.30 148.99,459.15 151.34,459.11 C153.69,459.06 156.03,459.13 158.38,458.97 C160.73,458.81 163.07,458.42 165.42,458.14 C167.77,457.86 171.29,457.44 172.46,457.30 L172.46,463.30 C171.29,463.39 167.77,463.68 165.42,463.86 C163.07,464.05 160.73,464.36 158.38,464.43 C156.03,464.50 153.69,464.34 151.34,464.29 C148.99,464.25 146.65,464.30 144.30,464.15 C141.95,464.01 139.61,463.66 137.26,463.42 C134.91,463.17 132.57,462.98 130.22,462.68 C127.87,462.39 125.53,461.92 123.18,461.65 C120.83,461.37 118.49,461.29 116.14,461.01 C113.79,460.73 111.45,460.23 109.10,459.97 C106.75,459.71 104.41,459.52 102.06,459.44 C99.71,459.36 97.37,459.40 95.02,459.50 C92.67,459.60 90.33,459.84 87.98,460.01 C85.63,460.18 83.29,460.45 80.94,460.52 C78.59,460.60 76.25,460.47 73.90,460.44 C71.55,460.41 69.21,460.37 66.86,460.35 C64.51,460.33 62.17,460.32 59.82,460.31 C57.47,460.30 55.13,460.24 52.78,460.27 C50.43,460.31 48.09,460.32 45.74,460.54 C43.39,460.76 39.87,461.42 38.70,461.60 Z" fill="#1f8a4c" fill-opacity="0.08" stroke="none"/>
<path d="M38.70,457.70 C39.87,457.28 43.39,455.93 45.74,455.20 C48.09,454.47 50.43,453.95 52.78,453.30 C55.13,452.65 57.47,451.88 59.82,451.30 C62.17,450.72 64.51,450.17 66.86,449.80 C69.21,449.43 71.55,449.23 73.90,449.10 C76.25,448.97 78.59,448.98 80.94,449.00 C83.29,449.02 85.63,449.28 87.98,449.20 C90.33,449.12 92.67,448.78 95.02,448.50 C97.37,448.22 99.71,448.07 102.06,447.50 C104.41,446.93 106.75,445.90 109.10,445.10 C111.45,444.30 113.79,443.45 116.14,442.70 C118.49,441.95 120.83,441.30 123.18,440.60 C125.53,439.90 127.87,439.05 130.22,438.50 C132.57,437.95 134.91,437.70 137.26,437.30 C139.61,436.90 141.95,436.47 144.30,436.10 C146.65,435.73 148.99,435.43 151.34,435.10 C153.69,434.77 156.03,434.39 158.38,434.10 C160.73,433.81 163.07,433.60 165.42,433.35 C167.77,433.10 171.29,432.73 172.46,432.60" fill="none" stroke="#f4533a" stroke-width="1.1" stroke-linecap="butt"/>
<path d="M38.70,457.70 C39.87,457.62 43.39,457.37 45.74,457.20 C48.09,457.03 50.43,456.89 52.78,456.70 C55.13,456.51 57.47,456.27 59.82,456.05 C62.17,455.83 64.51,455.63 66.86,455.40 C69.21,455.17 71.55,454.90 73.90,454.65 C76.25,454.40 78.59,454.17 80.94,453.90 C83.29,453.62 85.63,453.30 87.98,453.00 C90.33,452.70 92.67,452.38 95.02,452.10 C97.37,451.82 99.71,451.57 102.06,451.30 C104.41,451.03 106.75,450.77 109.10,450.50 C111.45,450.23 113.79,449.97 116.14,449.70 C118.49,449.43 120.83,449.22 123.18,448.90 C125.53,448.58 127.87,448.15 130.22,447.80 C132.57,447.45 134.91,447.13 137.26,446.80 C139.61,446.47 141.95,446.06 144.30,445.80 C146.65,445.54 148.99,445.43 151.34,445.25 C153.69,445.07 156.03,444.89 158.38,444.70 C160.73,444.51 163.07,444.30 165.42,444.10 C167.77,443.90 171.29,443.60 172.46,443.50" fill="none" stroke="#ffcc00" stroke-width="1.3" stroke-linecap="butt"/>
<path d="M38.70,459.60 C39.87,459.43 43.39,458.80 45.74,458.60 C48.09,458.40 50.43,458.42 52.78,458.40 C55.13,458.38 57.47,458.47 59.82,458.50 C62.17,458.53 64.51,458.56 66.86,458.60 C69.21,458.64 71.55,458.70 73.90,458.75 C76.25,458.80 78.59,458.95 80.94,458.90 C83.29,458.85 85.63,458.60 87.98,458.45 C90.33,458.30 92.67,458.11 95.02,458.00 C97.37,457.89 99.71,457.77 102.06,457.80 C104.41,457.83 106.75,457.98 109.10,458.20 C111.45,458.42 113.79,458.87 116.14,459.10 C118.49,459.33 120.83,459.37 123.18,459.60 C125.53,459.83 127.87,460.25 130.22,460.50 C132.57,460.75 134.91,460.90 137.26,461.10 C139.61,461.30 141.95,461.60 144.30,461.70 C146.65,461.80 148.99,461.70 151.34,461.70 C153.69,461.70 156.03,461.82 158.38,461.70 C160.73,461.58 163.07,461.23 165.42,461.00 C167.77,460.77 171.29,460.42 172.46,460.30" fill="none" stroke="#1f8a4c" stroke-width="1.3" stroke-linecap="butt"/>
<circle cx="38.7" cy="461.9" r="1.2" fill="#f4533a"/>
<circle cx="45.7" cy="453.1" r="1.2" fill="#f4533a"/>
<circle cx="52.8" cy="451.1" r="1.2" fill="#f4533a"/>
<circle cx="59.8" cy="452.3" r="1.2" fill="#f4533a"/>
<circle cx="66.9" cy="445.9" r="1.2" fill="#f4533a"/>
<circle cx="73.9" cy="441.7" r="1.2" fill="#f4533a"/>
<circle cx="80.9" cy="451.6" r="1.2" fill="#f4533a"/>
<circle cx="88.0" cy="449.6" r="1.2" fill="#f4533a"/>
<circle cx="95.0" cy="450.5" r="1.2" fill="#f4533a"/>
<circle cx="102.1" cy="447.8" r="1.2" fill="#f4533a"/>
<circle cx="109.1" cy="443.5" r="1.2" fill="#f4533a"/>
<circle cx="116.1" cy="443.5" r="1.2" fill="#f4533a"/>
<circle cx="123.2" cy="433.8" r="1.2" fill="#f4533a"/>
<circle cx="130.2" cy="438.2" r="1.2" fill="#f4533a"/>
<circle cx="137.3" cy="438.2" r="1.2" fill="#f4533a"/>
<circle cx="144.3" cy="437.3" r="1.2" fill="#f4533a"/>
<circle cx="151.3" cy="435.9" r="1.2" fill="#f4533a"/>
<circle cx="158.4" cy="430.6" r="1.2" fill="#f4533a"/>
<circle cx="165.4" cy="434.1" r="1.2" fill="#f4533a"/>
<circle cx="172.5" cy="432.9" r="1.2" fill="#f4533a"/>
<circle cx="38.7" cy="455.7" r="1.2" fill="#ffcc00"/>
<circle cx="45.7" cy="459.9" r="1.2" fill="#ffcc00"/>
<circle cx="52.8" cy="459.9" r="1.2" fill="#ffcc00"/>
<circle cx="59.8" cy="455.7" r="1.2" fill="#ffcc00"/>
<circle cx="66.9" cy="454.4" r="1.2" fill="#ffcc00"/>
<circle cx="73.9" cy="451.8" r="1.2" fill="#ffcc00"/>
<circle cx="80.9" cy="456.9" r="1.2" fill="#ffcc00"/>
<circle cx="88.0" cy="452.1" r="1.2" fill="#ffcc00"/>
<circle cx="95.0" cy="453.2" r="1.2" fill="#ffcc00"/>
<circle cx="102.1" cy="449.6" r="1.2" fill="#ffcc00"/>
<circle cx="109.1" cy="447.0" r="1.2" fill="#ffcc00"/>
<circle cx="116.1" cy="452.1" r="1.2" fill="#ffcc00"/>
<circle cx="123.2" cy="448.1" r="1.2" fill="#ffcc00"/>
<circle cx="130.2" cy="445.0" r="1.2" fill="#ffcc00"/>
<circle cx="137.3" cy="449.6" r="1.2" fill="#ffcc00"/>
<circle cx="144.3" cy="445.3" r="1.2" fill="#ffcc00"/>
<circle cx="151.3" cy="446.4" r="1.2" fill="#ffcc00"/>
<circle cx="158.4" cy="444.1" r="1.2" fill="#ffcc00"/>
<circle cx="165.4" cy="445.8" r="1.2" fill="#ffcc00"/>
<circle cx="172.5" cy="443.3" r="1.2" fill="#ffcc00"/>
<circle cx="38.7" cy="459.1" r="1.2" fill="#1f8a4c"/>
<circle cx="45.7" cy="457.7" r="1.2" fill="#1f8a4c"/>
<circle cx="59.8" cy="458.4" r="1.2" fill="#1f8a4c"/>
<circle cx="66.9" cy="459.6" r="1.2" fill="#1f8a4c"/>
<circle cx="73.9" cy="460.6" r="1.2" fill="#1f8a4c"/>
<circle cx="80.9" cy="461.5" r="1.2" fill="#1f8a4c"/>
<circle cx="88.0" cy="457.5" r="1.2" fill="#1f8a4c"/>
<circle cx="95.0" cy="456.9" r="1.2" fill="#1f8a4c"/>
<circle cx="102.1" cy="456.4" r="1.2" fill="#1f8a4c"/>
<circle cx="109.1" cy="458.0" r="1.2" fill="#1f8a4c"/>
<circle cx="116.1" cy="460.7" r="1.2" fill="#1f8a4c"/>
<circle cx="123.2" cy="459.1" r="1.2" fill="#1f8a4c"/>
<circle cx="130.2" cy="460.5" r="1.2" fill="#1f8a4c"/>
<circle cx="137.3" cy="461.7" r="1.2" fill="#1f8a4c"/>
<circle cx="144.3" cy="462.3" r="1.2" fill="#1f8a4c"/>
<circle cx="151.3" cy="460.5" r="1.2" fill="#1f8a4c"/>
<circle cx="158.4" cy="464.0" r="1.2" fill="#1f8a4c"/>
<circle cx="165.4" cy="460.8" r="1.2" fill="#1f8a4c"/>
<circle cx="172.5" cy="459.9" r="1.2" fill="#1f8a4c"/>
<path d="M221.80,451.80 C222.97,451.68 226.49,451.25 228.84,451.07 C231.19,450.90 233.53,450.84 235.88,450.75 C238.23,450.66 240.57,450.52 242.92,450.52 C245.27,450.53 247.61,450.64 249.96,450.80 C252.31,450.96 254.65,451.15 257.00,451.48 C259.35,451.80 261.69,452.43 264.04,452.75 C266.39,453.07 268.73,453.16 271.08,453.43 C273.43,453.69 275.77,454.16 278.12,454.35 C280.47,454.54 282.81,454.53 285.16,454.57 C287.51,454.61 289.85,454.58 292.20,454.58 C294.55,454.59 296.89,454.64 299.24,454.60 C301.59,454.56 303.93,454.44 306.28,454.37 C308.63,454.29 310.97,454.14 313.32,454.13 C315.67,454.12 318.01,454.52 320.36,454.30 C322.71,454.08 325.05,453.24 327.40,452.80 C329.75,452.36 332.09,452.03 334.44,451.65 C336.79,451.27 339.13,450.82 341.48,450.50 C343.83,450.18 346.17,450.00 348.52,449.75 C350.87,449.50 354.39,449.12 355.56,449.00 L355.56,479.00 C354.39,478.46 350.87,476.83 348.52,475.75 C346.17,474.67 343.83,473.52 341.48,472.50 C339.13,471.48 336.79,470.60 334.44,469.65 C332.09,468.70 329.75,467.69 327.40,466.80 C325.05,465.91 322.71,464.86 320.36,464.30 C318.01,463.74 315.67,463.68 313.32,463.47 C310.97,463.26 308.63,463.18 306.28,463.03 C303.93,462.89 301.59,462.79 299.24,462.60 C296.89,462.41 294.55,462.14 292.20,461.92 C289.85,461.69 287.51,461.49 285.16,461.23 C282.81,460.97 280.47,460.53 278.12,460.35 C275.77,460.17 273.43,460.19 271.08,460.18 C268.73,460.16 266.39,460.32 264.04,460.25 C261.69,460.18 259.35,459.80 257.00,459.73 C254.65,459.65 252.31,459.71 249.96,459.80 C247.61,459.89 245.27,460.03 242.92,460.27 C240.57,460.52 238.23,460.91 235.88,461.25 C233.53,461.59 231.19,461.90 228.84,462.32 C226.49,462.75 222.97,463.55 221.80,463.80 Z" fill="#f4533a" fill-opacity="0.07" stroke="none"/>
<path d="M221.80,456.10 C222.97,456.02 226.49,455.78 228.84,455.61 C231.19,455.45 233.53,455.26 235.88,455.12 C238.23,454.99 240.57,454.90 242.92,454.79 C245.27,454.68 247.61,454.50 249.96,454.45 C252.31,454.40 254.65,454.49 257.00,454.51 C259.35,454.53 261.69,454.59 264.04,454.57 C266.39,454.56 268.73,454.42 271.08,454.44 C273.43,454.46 275.77,454.65 278.12,454.70 C280.47,454.75 282.81,454.73 285.16,454.73 C287.51,454.74 289.85,454.72 292.20,454.72 C294.55,454.71 296.89,454.76 299.24,454.70 C301.59,454.64 303.93,454.49 306.28,454.38 C308.63,454.28 310.97,454.16 313.32,454.07 C315.67,453.98 318.01,454.11 320.36,453.85 C322.71,453.59 325.05,452.91 327.40,452.50 C329.75,452.09 332.09,451.77 334.44,451.40 C336.79,451.03 339.13,450.68 341.48,450.30 C343.83,449.93 346.17,449.53 348.52,449.15 C350.87,448.77 354.39,448.19 355.56,448.00 L355.56,467.00 C354.39,466.76 350.87,466.03 348.52,465.55 C346.17,465.07 343.83,464.59 341.48,464.10 C339.13,463.61 336.79,463.10 334.44,462.60 C332.09,462.10 329.75,461.56 327.40,461.10 C325.05,460.64 322.71,460.08 320.36,459.85 C318.01,459.62 315.67,459.76 313.32,459.73 C310.97,459.71 308.63,459.72 306.28,459.72 C303.93,459.71 301.59,459.76 299.24,459.70 C296.89,459.64 294.55,459.49 292.20,459.38 C289.85,459.28 287.51,459.18 285.16,459.07 C282.81,458.95 280.47,458.78 278.12,458.70 C275.77,458.62 273.43,458.54 271.08,458.56 C268.73,458.58 266.39,458.77 264.04,458.82 C261.69,458.88 259.35,458.87 257.00,458.89 C254.65,458.91 252.31,458.86 249.96,458.95 C247.61,459.04 245.27,459.26 242.92,459.41 C240.57,459.57 238.23,459.70 235.88,459.88 C233.53,460.05 231.19,460.28 228.84,460.49 C226.49,460.69 222.97,461.00 221.80,461.10 Z" fill="#ffcc00" fill-opacity="0.13" stroke="none"/>
<path d="M221.80,456.90 C222.97,456.84 226.49,456.68 228.84,456.56 C231.19,456.45 233.53,456.30 235.88,456.23 C238.23,456.15 240.57,456.17 242.92,456.14 C245.27,456.11 247.61,455.99 249.96,456.05 C252.31,456.11 254.65,456.36 257.00,456.51 C259.35,456.67 261.69,456.90 264.04,456.98 C266.39,457.05 268.73,456.88 271.08,456.94 C273.43,457.00 275.77,457.25 278.12,457.35 C280.47,457.45 282.81,457.42 285.16,457.56 C287.51,457.71 289.85,458.01 292.20,458.23 C294.55,458.45 296.89,458.68 299.24,458.89 C301.59,459.10 303.93,459.30 306.28,459.50 C308.63,459.71 310.97,459.91 313.32,460.12 C315.67,460.32 318.01,460.53 320.36,460.73 C322.71,460.94 325.05,461.21 327.40,461.35 C329.75,461.48 332.09,461.49 334.44,461.56 C336.79,461.63 339.13,461.76 341.48,461.77 C343.83,461.79 346.17,461.68 348.52,461.64 C350.87,461.59 354.39,461.52 355.56,461.50 L355.56,467.50 C354.39,467.48 350.87,467.41 348.52,467.36 C346.17,467.32 343.83,467.33 341.48,467.23 C339.13,467.12 336.79,466.90 334.44,466.74 C332.09,466.58 329.75,466.48 327.40,466.25 C325.05,466.03 322.71,465.66 320.36,465.37 C318.01,465.07 315.67,464.78 313.32,464.48 C310.97,464.19 308.63,463.89 306.28,463.60 C303.93,463.30 301.59,463.01 299.24,462.71 C296.89,462.41 294.55,462.08 292.20,461.77 C289.85,461.46 287.51,461.07 285.16,460.84 C282.81,460.60 280.47,460.48 278.12,460.35 C275.77,460.22 273.43,460.08 271.08,460.06 C268.73,460.04 266.39,460.25 264.04,460.23 C261.69,460.20 259.35,460.00 257.00,459.89 C254.65,459.78 252.31,459.57 249.96,459.55 C247.61,459.53 245.27,459.69 242.92,459.76 C240.57,459.83 238.23,459.86 235.88,459.98 C233.53,460.09 231.19,460.28 228.84,460.44 C226.49,460.59 222.97,460.82 221.80,460.90 Z" fill="#1f8a4c" fill-opacity="0.08" stroke="none"/>
<path d="M221.80,457.80 C222.97,457.62 226.49,457.00 228.84,456.70 C231.19,456.40 233.53,456.22 235.88,456.00 C238.23,455.78 240.57,455.52 242.92,455.40 C245.27,455.28 247.61,455.27 249.96,455.30 C252.31,455.33 254.65,455.40 257.00,455.60 C259.35,455.80 261.69,456.30 264.04,456.50 C266.39,456.70 268.73,456.66 271.08,456.80 C273.43,456.94 275.77,457.17 278.12,457.35 C280.47,457.53 282.81,457.75 285.16,457.90 C287.51,458.05 289.85,458.13 292.20,458.25 C294.55,458.37 296.89,458.53 299.24,458.60 C301.59,458.68 303.93,458.67 306.28,458.70 C308.63,458.73 310.97,458.70 313.32,458.80 C315.67,458.90 318.01,459.13 320.36,459.30 C322.71,459.47 325.05,459.58 327.40,459.80 C329.75,460.02 332.09,460.37 334.44,460.65 C336.79,460.93 339.13,461.15 341.48,461.50 C343.83,461.85 346.17,462.33 348.52,462.75 C350.87,463.17 354.39,463.79 355.56,464.00" fill="none" stroke="#f4533a" stroke-width="1.1" stroke-linecap="butt"/>
<path d="M221.80,458.60 C222.97,458.51 226.49,458.23 228.84,458.05 C231.19,457.87 233.53,457.66 235.88,457.50 C238.23,457.34 240.57,457.23 242.92,457.10 C245.27,456.97 247.61,456.77 249.96,456.70 C252.31,456.63 254.65,456.70 257.00,456.70 C259.35,456.70 261.69,456.73 264.04,456.70 C266.39,456.67 268.73,456.50 271.08,456.50 C273.43,456.50 275.77,456.63 278.12,456.70 C280.47,456.77 282.81,456.84 285.16,456.90 C287.51,456.96 289.85,457.00 292.20,457.05 C294.55,457.10 296.89,457.20 299.24,457.20 C301.59,457.20 303.93,457.10 306.28,457.05 C308.63,457.00 310.97,456.93 313.32,456.90 C315.67,456.87 318.01,456.87 320.36,456.85 C322.71,456.83 325.05,456.78 327.40,456.80 C329.75,456.82 332.09,456.93 334.44,457.00 C336.79,457.07 339.13,457.14 341.48,457.20 C343.83,457.26 346.17,457.30 348.52,457.35 C350.87,457.40 354.39,457.48 355.56,457.50" fill="none" stroke="#ffcc00" stroke-width="1.3" stroke-linecap="butt"/>
<path d="M221.80,458.90 C222.97,458.83 226.49,458.63 228.84,458.50 C231.19,458.37 233.53,458.19 235.88,458.10 C238.23,458.01 240.57,458.00 242.92,457.95 C245.27,457.90 247.61,457.76 249.96,457.80 C252.31,457.84 254.65,458.07 257.00,458.20 C259.35,458.33 261.69,458.55 264.04,458.60 C266.39,458.65 268.73,458.46 271.08,458.50 C273.43,458.54 275.77,458.73 278.12,458.85 C280.47,458.97 282.81,459.01 285.16,459.20 C287.51,459.39 289.85,459.73 292.20,460.00 C294.55,460.27 296.89,460.54 299.24,460.80 C301.59,461.06 303.93,461.30 306.28,461.55 C308.63,461.80 310.97,462.05 313.32,462.30 C315.67,462.55 318.01,462.80 320.36,463.05 C322.71,463.30 325.05,463.62 327.40,463.80 C329.75,463.98 332.09,464.03 334.44,464.15 C336.79,464.27 339.13,464.44 341.48,464.50 C343.83,464.56 346.17,464.50 348.52,464.50 C350.87,464.50 354.39,464.50 355.56,464.50" fill="none" stroke="#1f8a4c" stroke-width="1.3" stroke-linecap="butt"/>
<circle cx="228.8" cy="459.2" r="1.2" fill="#f4533a"/>
<circle cx="235.9" cy="453.1" r="1.2" fill="#f4533a"/>
<circle cx="250.0" cy="450.9" r="1.2" fill="#f4533a"/>
<circle cx="257.0" cy="447.4" r="1.2" fill="#f4533a"/>
<circle cx="264.0" cy="464.7" r="1.2" fill="#f4533a"/>
<circle cx="271.1" cy="455.9" r="1.2" fill="#f4533a"/>
<circle cx="278.1" cy="454.5" r="1.2" fill="#f4533a"/>
<circle cx="285.2" cy="462.6" r="1.2" fill="#f4533a"/>
<circle cx="306.3" cy="450.7" r="1.2" fill="#f4533a"/>
<circle cx="313.3" cy="458.0" r="1.2" fill="#f4533a"/>
<circle cx="320.4" cy="459.2" r="1.2" fill="#f4533a"/>
<circle cx="341.5" cy="458.2" r="1.2" fill="#f4533a"/>
<circle cx="355.6" cy="462.5" r="1.2" fill="#f4533a"/>
<circle cx="221.8" cy="453.4" r="1.2" fill="#ffcc00"/>
<circle cx="228.8" cy="461.6" r="1.2" fill="#ffcc00"/>
<circle cx="235.9" cy="461.1" r="1.2" fill="#ffcc00"/>
<circle cx="242.9" cy="458.9" r="1.2" fill="#ffcc00"/>
<circle cx="250.0" cy="456.2" r="1.2" fill="#ffcc00"/>
<circle cx="257.0" cy="452.4" r="1.2" fill="#ffcc00"/>
<circle cx="264.0" cy="456.2" r="1.2" fill="#ffcc00"/>
<circle cx="278.1" cy="456.4" r="1.2" fill="#ffcc00"/>
<circle cx="285.2" cy="456.9" r="1.2" fill="#ffcc00"/>
<circle cx="299.2" cy="459.8" r="1.2" fill="#ffcc00"/>
<circle cx="306.3" cy="455.0" r="1.2" fill="#ffcc00"/>
<circle cx="313.3" cy="452.9" r="1.2" fill="#ffcc00"/>
<circle cx="320.4" cy="457.5" r="1.2" fill="#ffcc00"/>
<circle cx="327.4" cy="455.8" r="1.2" fill="#ffcc00"/>
<circle cx="334.4" cy="458.0" r="1.2" fill="#ffcc00"/>
<circle cx="341.5" cy="454.5" r="1.2" fill="#ffcc00"/>
<circle cx="348.5" cy="461.8" r="1.2" fill="#ffcc00"/>
<circle cx="355.6" cy="454.8" r="1.2" fill="#ffcc00"/>
<circle cx="221.8" cy="458.9" r="1.2" fill="#1f8a4c"/>
<circle cx="242.9" cy="456.7" r="1.2" fill="#1f8a4c"/>
<circle cx="250.0" cy="458.9" r="1.2" fill="#1f8a4c"/>
<circle cx="257.0" cy="460.0" r="1.2" fill="#1f8a4c"/>
<circle cx="264.0" cy="459.7" r="1.2" fill="#1f8a4c"/>
<circle cx="278.1" cy="460.3" r="1.2" fill="#1f8a4c"/>
<circle cx="292.2" cy="461.8" r="1.2" fill="#1f8a4c"/>
<circle cx="299.2" cy="462.8" r="1.2" fill="#1f8a4c"/>
<circle cx="306.3" cy="461.8" r="1.2" fill="#1f8a4c"/>
<circle cx="313.3" cy="461.6" r="1.2" fill="#1f8a4c"/>
<circle cx="320.4" cy="462.8" r="1.2" fill="#1f8a4c"/>
<circle cx="327.4" cy="464.5" r="1.2" fill="#1f8a4c"/>
<circle cx="334.4" cy="462.8" r="1.2" fill="#1f8a4c"/>
<circle cx="341.5" cy="468.0" r="1.2" fill="#1f8a4c"/>
<circle cx="348.5" cy="464.8" r="1.2" fill="#1f8a4c"/>
<circle cx="355.6" cy="463.5" r="1.2" fill="#1f8a4c"/>
<path d="M404.80,453.60 C405.97,453.07 409.49,451.51 411.84,450.41 C414.19,449.32 416.53,448.19 418.88,447.03 C421.23,445.87 423.57,444.60 425.92,443.44 C428.27,442.28 430.61,441.07 432.96,440.06 C435.31,439.05 437.65,438.18 440.00,437.37 C442.35,436.56 444.69,435.83 447.04,435.19 C449.39,434.54 451.73,434.07 454.08,433.50 C456.43,432.93 458.77,432.42 461.12,431.78 C463.47,431.14 465.81,430.60 468.16,429.66 C470.51,428.72 472.85,427.53 475.20,426.14 C477.55,424.75 479.89,423.11 482.24,421.32 C484.59,419.53 486.93,416.92 489.28,415.40 C491.63,413.88 493.97,413.15 496.32,412.20 C498.67,411.25 501.01,410.50 503.36,409.70 C505.71,408.90 508.05,408.81 510.40,407.40 C512.75,405.99 515.09,403.28 517.44,401.25 C519.79,399.22 522.13,397.17 524.48,395.20 C526.83,393.23 529.17,391.32 531.52,389.45 C533.87,387.58 537.39,384.91 538.56,384.00 L538.56,438.00 C537.39,437.69 533.87,436.72 531.52,436.15 C529.17,435.58 526.83,435.07 524.48,434.60 C522.13,434.13 519.79,433.75 517.44,433.35 C515.09,432.95 512.75,431.94 510.40,432.20 C508.05,432.46 505.71,433.97 503.36,434.90 C501.01,435.83 498.67,436.72 496.32,437.80 C493.97,438.88 491.63,440.19 489.28,441.40 C486.93,442.61 484.59,444.04 482.24,445.08 C479.89,446.12 477.55,447.02 475.20,447.66 C472.85,448.30 470.51,448.75 468.16,448.94 C465.81,449.13 463.47,448.93 461.12,448.82 C458.77,448.71 456.43,448.27 454.08,448.30 C451.73,448.33 449.39,448.69 447.04,449.01 C444.69,449.34 442.35,449.74 440.00,450.23 C437.65,450.72 435.31,451.25 432.96,451.94 C430.61,452.63 428.27,453.52 425.92,454.36 C423.57,455.20 421.23,456.13 418.88,456.97 C416.53,457.81 414.19,458.61 411.84,459.39 C409.49,460.16 405.97,461.23 404.80,461.60 Z" fill="#f4533a" fill-opacity="0.07" stroke="none"/>
<path d="M404.80,455.70 C405.97,455.79 409.49,456.07 411.84,456.25 C414.19,456.43 416.53,456.69 418.88,456.80 C421.23,456.91 423.57,456.87 425.92,456.90 C428.27,456.93 430.61,456.96 432.96,457.00 C435.31,457.04 437.65,457.10 440.00,457.15 C442.35,457.20 444.69,457.34 447.04,457.30 C449.39,457.26 451.73,457.02 454.08,456.90 C456.43,456.77 458.77,456.69 461.12,456.55 C463.47,456.41 465.81,456.21 468.16,456.03 C470.51,455.85 472.85,455.66 475.20,455.47 C477.55,455.28 479.89,455.01 482.24,454.90 C484.59,454.79 486.93,454.82 489.28,454.78 C491.63,454.74 493.97,454.68 496.32,454.67 C498.67,454.65 501.01,454.88 503.36,454.70 C505.71,454.52 508.05,453.96 510.40,453.60 C512.75,453.24 515.09,452.90 517.44,452.55 C519.79,452.20 522.13,451.82 524.48,451.50 C526.83,451.18 529.17,450.93 531.52,450.65 C533.87,450.37 537.39,449.94 538.56,449.80 L538.56,469.80 C537.39,469.51 533.87,468.63 531.52,468.05 C529.17,467.47 526.83,466.85 524.48,466.30 C522.13,465.75 519.79,465.27 517.44,464.75 C515.09,464.23 512.75,463.71 510.40,463.20 C508.05,462.69 505.71,462.01 503.36,461.70 C501.01,461.39 498.67,461.43 496.32,461.33 C493.97,461.24 491.63,461.19 489.28,461.12 C486.93,461.04 484.59,460.90 482.24,460.90 C479.89,460.90 477.55,461.06 475.20,461.13 C472.85,461.21 470.51,461.30 468.16,461.37 C465.81,461.44 463.47,461.46 461.12,461.55 C458.77,461.64 456.43,461.77 454.08,461.90 C451.73,462.02 449.39,462.26 447.04,462.30 C444.69,462.34 442.35,462.20 440.00,462.15 C437.65,462.10 435.31,462.04 432.96,462.00 C430.61,461.96 428.27,461.93 425.92,461.90 C423.57,461.87 421.23,461.91 418.88,461.80 C416.53,461.69 414.19,461.43 411.84,461.25 C409.49,461.07 405.97,460.79 404.80,460.70 Z" fill="#ffcc00" fill-opacity="0.13" stroke="none"/>
<path d="M404.80,456.70 C405.97,456.83 409.49,457.21 411.84,457.46 C414.19,457.72 416.53,458.02 418.88,458.23 C421.23,458.43 423.57,458.53 425.92,458.69 C428.27,458.84 430.61,459.06 432.96,459.15 C435.31,459.24 437.65,459.19 440.00,459.21 C442.35,459.23 444.69,459.34 447.04,459.27 C449.39,459.21 451.73,459.07 454.08,458.84 C456.43,458.61 458.77,458.20 461.12,457.90 C463.47,457.60 465.81,457.23 468.16,457.03 C470.51,456.84 472.85,456.82 475.20,456.72 C477.55,456.61 479.89,456.43 482.24,456.40 C484.59,456.37 486.93,456.49 489.28,456.53 C491.63,456.58 493.97,456.70 496.32,456.67 C498.67,456.64 501.01,456.51 503.36,456.35 C505.71,456.19 508.05,456.02 510.40,455.70 C512.75,455.38 515.09,454.87 517.44,454.45 C519.79,454.03 522.13,453.68 524.48,453.20 C526.83,452.72 529.17,452.10 531.52,451.55 C533.87,451.00 537.39,450.17 538.56,449.90 L538.56,459.90 C537.39,460.01 533.87,460.33 531.52,460.55 C529.17,460.77 526.83,461.05 524.48,461.20 C522.13,461.35 519.79,461.37 517.44,461.45 C515.09,461.53 512.75,461.72 510.40,461.70 C508.05,461.68 505.71,461.41 503.36,461.35 C501.01,461.29 498.67,461.41 496.32,461.33 C493.97,461.25 491.63,461.02 489.28,460.87 C486.93,460.71 484.59,460.48 482.24,460.40 C479.89,460.32 477.55,460.39 475.20,460.38 C472.85,460.38 470.51,460.28 468.16,460.37 C465.81,460.45 463.47,460.63 461.12,460.90 C458.77,461.17 456.43,461.69 454.08,461.96 C451.73,462.23 449.39,462.42 447.04,462.52 C444.69,462.63 442.35,462.57 440.00,462.59 C437.65,462.61 435.31,462.70 432.96,462.65 C430.61,462.60 428.27,462.43 425.92,462.31 C423.57,462.20 421.23,462.14 418.88,461.98 C416.53,461.81 414.19,461.55 411.84,461.34 C409.49,461.12 405.97,460.81 404.80,460.70 Z" fill="#1f8a4c" fill-opacity="0.08" stroke="none"/>
<path d="M404.80,457.60 C405.97,457.15 409.49,455.83 411.84,454.90 C414.19,453.97 416.53,453.00 418.88,452.00 C421.23,451.00 423.57,449.90 425.92,448.90 C428.27,447.90 430.61,446.85 432.96,446.00 C435.31,445.15 437.65,444.45 440.00,443.80 C442.35,443.15 444.69,442.58 447.04,442.10 C449.39,441.62 451.73,441.20 454.08,440.90 C456.43,440.60 458.77,440.57 461.12,440.30 C463.47,440.03 465.81,439.87 468.16,439.30 C470.51,438.73 472.85,437.92 475.20,436.90 C477.55,435.88 479.89,434.62 482.24,433.20 C484.59,431.78 486.93,429.77 489.28,428.40 C491.63,427.03 493.97,426.02 496.32,425.00 C498.67,423.98 501.01,423.17 503.36,422.30 C505.71,421.43 508.05,420.63 510.40,419.80 C512.75,418.97 515.09,418.12 517.44,417.30 C519.79,416.48 522.13,415.65 524.48,414.90 C526.83,414.15 529.17,413.45 531.52,412.80 C533.87,412.15 537.39,411.30 538.56,411.00" fill="none" stroke="#f4533a" stroke-width="1.1" stroke-linecap="butt"/>
<path d="M404.80,458.20 C405.97,458.29 409.49,458.57 411.84,458.75 C414.19,458.93 416.53,459.19 418.88,459.30 C421.23,459.41 423.57,459.37 425.92,459.40 C428.27,459.43 430.61,459.46 432.96,459.50 C435.31,459.54 437.65,459.60 440.00,459.65 C442.35,459.70 444.69,459.84 447.04,459.80 C449.39,459.76 451.73,459.52 454.08,459.40 C456.43,459.27 458.77,459.17 461.12,459.05 C463.47,458.93 465.81,458.82 468.16,458.70 C470.51,458.57 472.85,458.43 475.20,458.30 C477.55,458.17 479.89,457.96 482.24,457.90 C484.59,457.84 486.93,457.93 489.28,457.95 C491.63,457.97 493.97,457.96 496.32,458.00 C498.67,458.04 501.01,458.13 503.36,458.20 C505.71,458.27 508.05,458.32 510.40,458.40 C512.75,458.47 515.09,458.57 517.44,458.65 C519.79,458.73 522.13,458.78 524.48,458.90 C526.83,459.02 529.17,459.20 531.52,459.35 C533.87,459.50 537.39,459.73 538.56,459.80" fill="none" stroke="#ffcc00" stroke-width="1.3" stroke-linecap="butt"/>
<path d="M404.80,458.70 C405.97,458.82 409.49,459.17 411.84,459.40 C414.19,459.63 416.53,459.92 418.88,460.10 C421.23,460.28 423.57,460.37 425.92,460.50 C428.27,460.63 430.61,460.83 432.96,460.90 C435.31,460.97 437.65,460.90 440.00,460.90 C442.35,460.90 444.69,460.98 447.04,460.90 C449.39,460.82 451.73,460.65 454.08,460.40 C456.43,460.15 458.77,459.68 461.12,459.40 C463.47,459.12 465.81,458.84 468.16,458.70 C470.51,458.56 472.85,458.60 475.20,458.55 C477.55,458.50 479.89,458.38 482.24,458.40 C484.59,458.42 486.93,458.60 489.28,458.70 C491.63,458.80 493.97,458.98 496.32,459.00 C498.67,459.02 501.01,458.90 503.36,458.85 C505.71,458.80 508.05,458.85 510.40,458.70 C512.75,458.55 515.09,458.20 517.44,457.95 C519.79,457.70 522.13,457.52 524.48,457.20 C526.83,456.88 529.17,456.43 531.52,456.05 C533.87,455.67 537.39,455.09 538.56,454.90" fill="none" stroke="#1f8a4c" stroke-width="1.3" stroke-linecap="butt"/>
<circle cx="404.8" cy="456.5" r="1.2" fill="#f4533a"/>
<circle cx="411.8" cy="454.9" r="1.2" fill="#f4533a"/>
<circle cx="418.9" cy="450.0" r="1.2" fill="#f4533a"/>
<circle cx="433.0" cy="439.4" r="1.2" fill="#f4533a"/>
<circle cx="440.0" cy="431.1" r="1.2" fill="#f4533a"/>
<circle cx="447.0" cy="429.8" r="1.2" fill="#f4533a"/>
<circle cx="454.1" cy="446.9" r="1.2" fill="#f4533a"/>
<circle cx="461.1" cy="455.4" r="1.2" fill="#f4533a"/>
<circle cx="468.2" cy="438.4" r="1.2" fill="#f4533a"/>
<circle cx="475.2" cy="428.3" r="1.2" fill="#f4533a"/>
<circle cx="482.2" cy="432.6" r="1.2" fill="#f4533a"/>
<circle cx="489.3" cy="418.8" r="1.2" fill="#f4533a"/>
<circle cx="496.3" cy="424.2" r="1.2" fill="#f4533a"/>
<circle cx="503.4" cy="426.4" r="1.2" fill="#f4533a"/>
<circle cx="510.4" cy="422.0" r="1.2" fill="#f4533a"/>
<circle cx="517.4" cy="416.9" r="1.2" fill="#f4533a"/>
<circle cx="524.5" cy="410.0" r="1.2" fill="#f4533a"/>
<circle cx="531.5" cy="415.4" r="1.2" fill="#f4533a"/>
<circle cx="538.6" cy="410.6" r="1.2" fill="#f4533a"/>
<circle cx="418.9" cy="462.5" r="1.2" fill="#ffcc00"/>
<circle cx="425.9" cy="458.0" r="1.2" fill="#ffcc00"/>
<circle cx="433.0" cy="454.9" r="1.2" fill="#ffcc00"/>
<circle cx="454.1" cy="458.9" r="1.2" fill="#ffcc00"/>
<circle cx="468.2" cy="459.8" r="1.2" fill="#ffcc00"/>
<circle cx="489.3" cy="460.1" r="1.2" fill="#ffcc00"/>
<circle cx="496.3" cy="455.0" r="1.2" fill="#ffcc00"/>
<circle cx="538.6" cy="459.4" r="1.2" fill="#ffcc00"/>
<circle cx="404.8" cy="459.8" r="1.2" fill="#1f8a4c"/>
<circle cx="411.8" cy="456.9" r="1.2" fill="#1f8a4c"/>
<circle cx="418.9" cy="458.2" r="1.2" fill="#1f8a4c"/>
<circle cx="425.9" cy="463.6" r="1.2" fill="#1f8a4c"/>
<circle cx="440.0" cy="463.1" r="1.2" fill="#1f8a4c"/>
<circle cx="447.0" cy="462.5" r="1.2" fill="#1f8a4c"/>
<circle cx="454.1" cy="462.3" r="1.2" fill="#1f8a4c"/>
<circle cx="461.1" cy="457.9" r="1.2" fill="#1f8a4c"/>
<circle cx="468.2" cy="456.5" r="1.2" fill="#1f8a4c"/>
<circle cx="475.2" cy="457.2" r="1.2" fill="#1f8a4c"/>
<circle cx="482.2" cy="459.4" r="1.2" fill="#1f8a4c"/>
<circle cx="489.3" cy="456.9" r="1.2" fill="#1f8a4c"/>
<circle cx="496.3" cy="459.4" r="1.2" fill="#1f8a4c"/>
<circle cx="503.4" cy="459.4" r="1.2" fill="#1f8a4c"/>
<circle cx="510.4" cy="460.4" r="1.2" fill="#1f8a4c"/>
<circle cx="517.4" cy="456.9" r="1.2" fill="#1f8a4c"/>
<circle cx="524.5" cy="460.9" r="1.2" fill="#1f8a4c"/>
<circle cx="531.5" cy="455.4" r="1.2" fill="#1f8a4c"/>
<circle cx="538.6" cy="455.0" r="1.2" fill="#1f8a4c"/>
<text x="40" y="279.8" font-size="7.1" fill="#222" stroke="#222" class="r">HFI Category</text>
<line x1="41" y1="287.1" x2="50" y2="287.1" stroke="#f4533a" stroke-width="1.3"/>
<circle cx="45.5" cy="287.1" r="1.2" fill="#f4533a"/>
<text x="54.3" y="289.7" font-size="6.3" fill="#222" stroke="#222" class="r">High HFI</text>
<line x1="41" y1="294.4" x2="50" y2="294.4" stroke="#ffcc00" stroke-width="1.3"/>
<circle cx="45.5" cy="294.4" r="1.2" fill="#ffcc00"/>
<text x="54.3" y="296.9" font-size="6.3" fill="#222" stroke="#222" class="r">Medium HFI</text>
<line x1="41" y1="301.7" x2="50" y2="301.7" stroke="#1f8a4c" stroke-width="1.3"/>
<circle cx="45.5" cy="301.7" r="1.2" fill="#1f8a4c"/>
<text x="54.3" y="303.8" font-size="6.3" fill="#222" stroke="#222" class="r">Low HFI</text>
<text x="38.5" y="385.7" font-size="7.1" fill="#222" stroke="#222" class="r">GDP Category</text>
<line x1="39" y1="393.1" x2="48" y2="393.1" stroke="#f4533a" stroke-width="1.3"/>
<circle cx="43.5" cy="393.1" r="1.2" fill="#f4533a"/>
<text x="52.7" y="395.5" font-size="6.3" fill="#222" stroke="#222" class="r">High GDP</text>
<line x1="39" y1="400.4" x2="48" y2="400.4" stroke="#ffcc00" stroke-width="1.3"/>
<circle cx="43.5" cy="400.4" r="1.2" fill="#ffcc00"/>
<text x="52.7" y="402.5" font-size="6.3" fill="#222" stroke="#222" class="r">Medium GDP</text>
<line x1="39" y1="407.8" x2="48" y2="407.8" stroke="#1f8a4c" stroke-width="1.3"/>
<circle cx="43.5" cy="407.8" r="1.2" fill="#1f8a4c"/>
<text x="52.7" y="409.7" font-size="6.3" fill="#222" stroke="#222" class="r">Low GDP</text>
<text x="223" y="279.8" font-size="7.1" fill="#222" stroke="#222" class="r">HFI Category</text>
<line x1="224" y1="287.1" x2="233" y2="287.1" stroke="#f4533a" stroke-width="1.3"/>
<circle cx="228.5" cy="287.1" r="1.2" fill="#f4533a"/>
<text x="237.3" y="289.7" font-size="6.3" fill="#222" stroke="#222" class="r">High HFI</text>
<line x1="224" y1="294.4" x2="233" y2="294.4" stroke="#ffcc00" stroke-width="1.3"/>
<circle cx="228.5" cy="294.4" r="1.2" fill="#ffcc00"/>
<text x="237.3" y="296.9" font-size="6.3" fill="#222" stroke="#222" class="r">Medium HFI</text>
<line x1="224" y1="301.7" x2="233" y2="301.7" stroke="#1f8a4c" stroke-width="1.3"/>
<circle cx="228.5" cy="301.7" r="1.2" fill="#1f8a4c"/>
<text x="237.3" y="303.8" font-size="6.3" fill="#222" stroke="#222" class="r">Low HFI</text>
<text x="221.5" y="385.7" font-size="7.1" fill="#222" stroke="#222" class="r">GDP Category</text>
<line x1="222" y1="393.1" x2="231" y2="393.1" stroke="#f4533a" stroke-width="1.3"/>
<circle cx="226.5" cy="393.1" r="1.2" fill="#f4533a"/>
<text x="235.7" y="395.5" font-size="6.3" fill="#222" stroke="#222" class="r">High GDP</text>
<line x1="222" y1="400.4" x2="231" y2="400.4" stroke="#ffcc00" stroke-width="1.3"/>
<circle cx="226.5" cy="400.4" r="1.2" fill="#ffcc00"/>
<text x="235.7" y="402.5" font-size="6.3" fill="#222" stroke="#222" class="r">Medium GDP</text>
<line x1="222" y1="407.8" x2="231" y2="407.8" stroke="#1f8a4c" stroke-width="1.3"/>
<circle cx="226.5" cy="407.8" r="1.2" fill="#1f8a4c"/>
<text x="235.7" y="409.7" font-size="6.3" fill="#222" stroke="#222" class="r">Low GDP</text>
<text x="406" y="279.8" font-size="7.1" fill="#222" stroke="#222" class="r">HFI Category</text>
<line x1="407" y1="287.1" x2="416" y2="287.1" stroke="#f4533a" stroke-width="1.3"/>
<circle cx="411.5" cy="287.1" r="1.2" fill="#f4533a"/>
<text x="420.3" y="289.7" font-size="6.3" fill="#222" stroke="#222" class="r">High HFI</text>
<line x1="407" y1="294.4" x2="416" y2="294.4" stroke="#ffcc00" stroke-width="1.3"/>
<circle cx="411.5" cy="294.4" r="1.2" fill="#ffcc00"/>
<text x="420.3" y="296.9" font-size="6.3" fill="#222" stroke="#222" class="r">Medium HFI</text>
<line x1="407" y1="301.7" x2="416" y2="301.7" stroke="#1f8a4c" stroke-width="1.3"/>
<circle cx="411.5" cy="301.7" r="1.2" fill="#1f8a4c"/>
<text x="420.3" y="303.8" font-size="6.3" fill="#222" stroke="#222" class="r">Low HFI</text>
<text x="404.5" y="385.7" font-size="7.1" fill="#222" stroke="#222" class="r">GDP Category</text>
<line x1="405" y1="393.1" x2="414" y2="393.1" stroke="#f4533a" stroke-width="1.3"/>
<circle cx="409.5" cy="393.1" r="1.2" fill="#f4533a"/>
<text x="418.7" y="395.5" font-size="6.3" fill="#222" stroke="#222" class="r">High GDP</text>
<line x1="405" y1="400.4" x2="414" y2="400.4" stroke="#ffcc00" stroke-width="1.3"/>
<circle cx="409.5" cy="400.4" r="1.2" fill="#ffcc00"/>
<text x="418.7" y="402.5" font-size="6.3" fill="#222" stroke="#222" class="r">Medium GDP</text>
<line x1="405" y1="407.8" x2="414" y2="407.8" stroke="#1f8a4c" stroke-width="1.3"/>
<circle cx="409.5" cy="407.8" r="1.2" fill="#1f8a4c"/>
<text x="418.7" y="409.7" font-size="6.3" fill="#222" stroke="#222" class="r">Low GDP</text>
<rect x="32.5" y="20.9" width="146.0" height="112.6" fill="none" stroke="#333" stroke-width="1.05"/>
<rect x="215.5" y="20.9" width="146.0" height="112.6" fill="none" stroke="#333" stroke-width="1.05"/>
<rect x="398.5" y="20.9" width="146.0" height="112.6" fill="none" stroke="#333" stroke-width="1.05"/>
<rect x="32.5" y="197.1" width="146.0" height="112.4" fill="none" stroke="#333" stroke-width="1.05"/>
<rect x="215.5" y="197.1" width="146.0" height="112.4" fill="none" stroke="#333" stroke-width="1.05"/>
<rect x="398.5" y="197.1" width="146.0" height="112.4" fill="none" stroke="#333" stroke-width="1.05"/>
<rect x="32.5" y="373.5" width="146.0" height="112.3" fill="none" stroke="#333" stroke-width="1.05"/>
<rect x="215.5" y="373.5" width="146.0" height="112.3" fill="none" stroke="#333" stroke-width="1.05"/>
<rect x="398.5" y="373.5" width="146.0" height="112.3" fill="none" stroke="#333" stroke-width="1.05"/>
</svg></body></html>
